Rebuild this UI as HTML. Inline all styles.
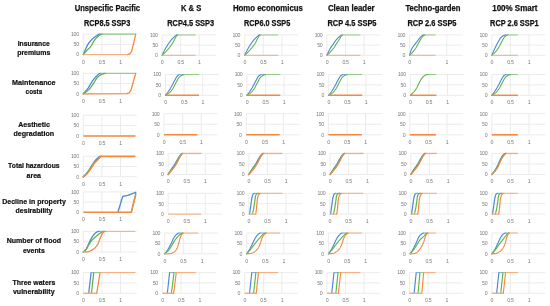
<!DOCTYPE html>
<html><head><meta charset="utf-8"><title>Scenario charts</title>
<style>
html,body{margin:0;padding:0;background:#fff;width:550px;height:306px;overflow:hidden;position:relative}
svg{will-change:transform}
text{font-family:"Liberation Sans",sans-serif}
.t{font-size:5.2px;fill:#7a7a7a;letter-spacing:-0.35px}
.h{font-size:8.3px;font-weight:bold;fill:#111;stroke:#111;stroke-width:0.25px}
.l{font-size:7.0px;font-weight:bold;fill:#111;stroke:#111;stroke-width:0.2px}
</style></head><body>
<svg width="550" height="306" viewBox="0 0 550 306" style="position:absolute;left:0;top:0">
<line x1="83.30" y1="34.10" x2="136.80" y2="34.10" stroke="#e6e6e6" stroke-width="0.8"/>
<line x1="83.30" y1="44.35" x2="136.80" y2="44.35" stroke="#e6e6e6" stroke-width="0.8"/>
<line x1="83.30" y1="54.60" x2="136.80" y2="54.60" stroke="#e6e6e6" stroke-width="0.8"/>
<line x1="83.30" y1="34.10" x2="83.30" y2="54.60" stroke="#e6e6e6" stroke-width="0.8"/>
<line x1="101.90" y1="34.10" x2="101.90" y2="54.60" stroke="#e6e6e6" stroke-width="0.8"/>
<line x1="120.50" y1="34.10" x2="120.50" y2="54.60" stroke="#e6e6e6" stroke-width="0.8"/>
<text x="78.70" y="35.90" text-anchor="end" class="t">100</text>
<text x="78.70" y="46.15" text-anchor="end" class="t">50</text>
<text x="78.70" y="56.40" text-anchor="end" class="t">0</text>
<text x="83.30" y="63.50" text-anchor="middle" class="t">0</text>
<text x="101.90" y="63.50" text-anchor="middle" class="t">0.5</text>
<text x="120.50" y="63.50" text-anchor="middle" class="t">1</text>
<polyline points="83.30,54.60 83.53,54.05 83.76,53.49 83.99,52.92 84.22,52.35 84.45,51.78 84.68,51.21 84.91,50.65 85.14,50.10 85.36,49.56 85.59,49.03 85.82,48.52 86.05,48.04 86.29,47.56 86.52,47.08 86.76,46.60 87.00,46.14 87.23,45.68 87.47,45.24 87.70,44.81 87.94,44.39 88.17,43.99 88.41,43.61 88.64,43.25 88.88,42.92 89.19,42.49 89.50,42.09 89.81,41.71 90.12,41.34 90.43,40.98 90.74,40.64 91.05,40.31 91.36,40.00 91.67,39.69 91.98,39.39 92.29,39.10 92.60,38.81 92.91,38.54 93.22,38.26 93.53,38.00 93.84,37.74 94.15,37.48 94.46,37.24 94.77,37.00 95.08,36.77 95.39,36.55 95.70,36.34 96.01,36.14 96.32,35.95 96.63,35.75 96.94,35.55 97.25,35.34 97.56,35.13 97.87,34.93 98.18,34.74 98.49,34.57 98.80,34.41 99.11,34.28 99.42,34.18 99.73,34.12" fill="none" stroke="#4a88d6" stroke-width="1.3" stroke-linejoin="round" stroke-linecap="round"/>
<polyline points="99.73,34.12 102.02,34.12" fill="none" stroke="#7da9e1" stroke-width="1.2" stroke-linejoin="round" stroke-linecap="butt"/>
<polyline points="83.30,54.60 83.61,54.24 83.92,53.88 84.23,53.51 84.54,53.15 84.85,52.78 85.16,52.42 85.47,52.06 85.78,51.70 86.09,51.34 86.40,50.99 86.71,50.64 87.02,50.30 87.33,49.96 87.64,49.64 87.95,49.33 88.26,49.03 88.57,48.73 88.88,48.43 89.19,48.13 89.50,47.81 89.81,47.49 90.12,47.15 90.43,46.78 90.74,46.40 91.05,45.98 91.36,45.51 91.67,45.00 91.98,44.46 92.29,43.91 92.60,43.34 92.91,42.78 93.22,42.22 93.53,41.68 93.84,41.16 94.15,40.69 94.46,40.25 94.77,39.84 95.08,39.44 95.39,39.05 95.70,38.67 96.01,38.31 96.32,37.95 96.63,37.61 96.94,37.28 97.25,36.97 97.56,36.68 97.87,36.40 98.18,36.15 98.43,35.95 98.68,35.76 98.92,35.56 99.17,35.37 99.42,35.19 99.67,35.01 99.92,34.85 100.16,34.70 100.41,34.57 100.66,34.46 100.91,34.37 101.16,34.31 101.28,34.28 101.40,34.25 101.53,34.23 101.65,34.21 101.78,34.18 101.90,34.16 102.02,34.15" fill="none" stroke="#60b34c" stroke-width="1.3" stroke-linejoin="round" stroke-linecap="round"/>
<polyline points="102.02,34.15 135.38,34.15" fill="none" stroke="#8dc87e" stroke-width="1.2" stroke-linejoin="round" stroke-linecap="butt"/>
<polyline points="83.30,54.60 127.57,54.60" fill="none" stroke="#f8aa75" stroke-width="1.0" stroke-linejoin="round" stroke-linecap="butt"/>
<polyline points="127.57,54.60 129.80,53.78 131.66,51.32 135.75,34.10" fill="none" stroke="#f5893f" stroke-width="1.3" stroke-linejoin="round" stroke-linecap="round"/>
<line x1="162.10" y1="34.90" x2="215.60" y2="34.90" stroke="#e6e6e6" stroke-width="0.8"/>
<line x1="162.10" y1="45.10" x2="215.60" y2="45.10" stroke="#e6e6e6" stroke-width="0.8"/>
<line x1="162.10" y1="55.30" x2="215.60" y2="55.30" stroke="#e6e6e6" stroke-width="0.8"/>
<line x1="162.10" y1="34.90" x2="162.10" y2="55.30" stroke="#e6e6e6" stroke-width="0.8"/>
<line x1="180.70" y1="34.90" x2="180.70" y2="55.30" stroke="#e6e6e6" stroke-width="0.8"/>
<line x1="199.30" y1="34.90" x2="199.30" y2="55.30" stroke="#e6e6e6" stroke-width="0.8"/>
<text x="157.50" y="36.70" text-anchor="end" class="t">100</text>
<text x="157.50" y="46.90" text-anchor="end" class="t">50</text>
<text x="157.50" y="57.10" text-anchor="end" class="t">0</text>
<text x="162.10" y="64.20" text-anchor="middle" class="t">0</text>
<text x="180.70" y="64.20" text-anchor="middle" class="t">0.5</text>
<text x="199.30" y="64.20" text-anchor="middle" class="t">1</text>
<polyline points="162.10,55.30 162.27,54.94 162.43,54.58 162.60,54.21 162.77,53.85 162.94,53.48 163.10,53.12 163.27,52.75 163.44,52.39 163.61,52.04 163.77,51.69 163.94,51.35 164.11,51.02 164.27,50.71 164.42,50.40 164.58,50.10 164.74,49.80 164.90,49.50 165.06,49.21 165.22,48.93 165.37,48.64 165.53,48.36 165.69,48.09 165.85,47.82 166.01,47.55 166.24,47.16 166.47,46.78 166.70,46.40 166.94,46.04 167.17,45.67 167.40,45.31 167.63,44.96 167.87,44.61 168.10,44.27 168.33,43.93 168.56,43.59 168.80,43.26 169.04,42.91 169.29,42.57 169.54,42.22 169.79,41.88 170.04,41.54 170.28,41.21 170.53,40.89 170.78,40.57 171.03,40.26 171.28,39.96 171.52,39.67 171.77,39.39 172.02,39.12 172.27,38.85 172.52,38.59 172.76,38.34 173.01,38.10 173.26,37.86 173.51,37.62 173.76,37.39 174.00,37.17 174.25,36.95 174.50,36.74 174.75,36.53 174.93,36.37 175.12,36.20 175.31,36.02 175.49,35.84 175.68,35.66 175.86,35.49 176.05,35.33 176.24,35.19 176.42,35.07 176.61,34.98 176.79,34.92" fill="none" stroke="#4a88d6" stroke-width="1.1" stroke-linejoin="round" stroke-linecap="round"/>
<polyline points="176.79,34.92 177.91,34.92" fill="none" stroke="#7da9e1" stroke-width="0.95" stroke-linejoin="round" stroke-linecap="butt"/>
<polyline points="162.10,55.30 162.43,54.98 162.75,54.66 163.08,54.34 163.40,54.03 163.73,53.71 164.05,53.40 164.38,53.08 164.70,52.76 165.03,52.43 165.35,52.10 165.68,51.77 166.01,51.42 166.33,51.08 166.66,50.73 166.98,50.37 167.31,50.02 167.63,49.65 167.96,49.29 168.28,48.91 168.61,48.53 168.94,48.15 169.26,47.75 169.59,47.35 169.91,46.94 170.16,46.62 170.41,46.29 170.66,45.96 170.90,45.63 171.15,45.28 171.40,44.93 171.65,44.58 171.90,44.21 172.14,43.84 172.39,43.45 172.64,43.06 172.89,42.65 173.09,42.30 173.29,41.93 173.49,41.54 173.69,41.13 173.90,40.71 174.10,40.29 174.30,39.87 174.50,39.46 174.70,39.05 174.90,38.67 175.10,38.30 175.31,37.96 175.48,37.68 175.65,37.38 175.82,37.08 175.99,36.78 176.16,36.48 176.33,36.20 176.50,35.93 176.67,35.69 176.84,35.48 177.01,35.31 177.18,35.18 177.35,35.10 177.44,35.08 177.54,35.05 177.63,35.02 177.72,35.00 177.82,34.98 177.91,34.96" fill="none" stroke="#60b34c" stroke-width="1.1" stroke-linejoin="round" stroke-linecap="round"/>
<polyline points="177.91,34.96 195.58,34.96" fill="none" stroke="#8dc87e" stroke-width="0.95" stroke-linejoin="round" stroke-linecap="butt"/>
<polyline points="162.10,55.30 195.58,55.30" fill="none" stroke="#f8aa75" stroke-width="0.95" stroke-linejoin="round" stroke-linecap="butt"/>
<line x1="244.70" y1="34.90" x2="298.20" y2="34.90" stroke="#e6e6e6" stroke-width="0.8"/>
<line x1="244.70" y1="45.10" x2="298.20" y2="45.10" stroke="#e6e6e6" stroke-width="0.8"/>
<line x1="244.70" y1="55.30" x2="298.20" y2="55.30" stroke="#e6e6e6" stroke-width="0.8"/>
<line x1="244.70" y1="34.90" x2="244.70" y2="55.30" stroke="#e6e6e6" stroke-width="0.8"/>
<line x1="263.30" y1="34.90" x2="263.30" y2="55.30" stroke="#e6e6e6" stroke-width="0.8"/>
<line x1="281.90" y1="34.90" x2="281.90" y2="55.30" stroke="#e6e6e6" stroke-width="0.8"/>
<text x="240.10" y="36.70" text-anchor="end" class="t">100</text>
<text x="240.10" y="46.90" text-anchor="end" class="t">50</text>
<text x="240.10" y="57.10" text-anchor="end" class="t">0</text>
<text x="244.70" y="64.20" text-anchor="middle" class="t">0</text>
<text x="263.30" y="64.20" text-anchor="middle" class="t">0.5</text>
<text x="281.90" y="64.20" text-anchor="middle" class="t">1</text>
<polyline points="244.70,55.30 244.87,54.94 245.03,54.58 245.20,54.21 245.37,53.85 245.54,53.48 245.70,53.12 245.87,52.75 246.04,52.39 246.21,52.04 246.37,51.69 246.54,51.35 246.71,51.02 246.87,50.71 247.02,50.40 247.18,50.10 247.34,49.80 247.50,49.50 247.66,49.21 247.82,48.93 247.97,48.64 248.13,48.36 248.29,48.09 248.45,47.82 248.61,47.55 248.84,47.16 249.07,46.78 249.30,46.40 249.54,46.04 249.77,45.67 250.00,45.31 250.23,44.96 250.47,44.61 250.70,44.27 250.93,43.93 251.16,43.59 251.40,43.26 251.64,42.91 251.89,42.57 252.14,42.22 252.39,41.88 252.64,41.54 252.88,41.21 253.13,40.89 253.38,40.57 253.63,40.26 253.88,39.96 254.12,39.67 254.37,39.39 254.62,39.12 254.87,38.85 255.12,38.59 255.36,38.34 255.61,38.10 255.86,37.86 256.11,37.62 256.36,37.39 256.60,37.17 256.85,36.95 257.10,36.74 257.35,36.53 257.53,36.37 257.72,36.20 257.91,36.02 258.09,35.84 258.28,35.66 258.46,35.49 258.65,35.33 258.84,35.19 259.02,35.07 259.21,34.98 259.39,34.92" fill="none" stroke="#4a88d6" stroke-width="1.1" stroke-linejoin="round" stroke-linecap="round"/>
<polyline points="259.39,34.92 260.51,34.92" fill="none" stroke="#7da9e1" stroke-width="0.95" stroke-linejoin="round" stroke-linecap="butt"/>
<polyline points="244.70,55.30 245.03,54.98 245.35,54.66 245.68,54.34 246.00,54.03 246.33,53.71 246.65,53.40 246.98,53.08 247.30,52.76 247.63,52.43 247.95,52.10 248.28,51.77 248.61,51.42 248.93,51.08 249.26,50.73 249.58,50.37 249.91,50.02 250.23,49.65 250.56,49.29 250.88,48.91 251.21,48.53 251.54,48.15 251.86,47.75 252.19,47.35 252.51,46.94 252.76,46.62 253.01,46.29 253.26,45.96 253.50,45.63 253.75,45.28 254.00,44.93 254.25,44.58 254.50,44.21 254.74,43.84 254.99,43.45 255.24,43.06 255.49,42.65 255.69,42.30 255.89,41.93 256.09,41.54 256.29,41.13 256.50,40.71 256.70,40.29 256.90,39.87 257.10,39.46 257.30,39.05 257.50,38.67 257.70,38.30 257.91,37.96 258.08,37.68 258.25,37.38 258.42,37.08 258.59,36.78 258.76,36.48 258.93,36.20 259.10,35.93 259.27,35.69 259.44,35.48 259.61,35.31 259.78,35.18 259.95,35.10 260.05,35.08 260.14,35.05 260.23,35.02 260.32,35.00 260.42,34.98 260.51,34.96" fill="none" stroke="#60b34c" stroke-width="1.1" stroke-linejoin="round" stroke-linecap="round"/>
<polyline points="260.51,34.96 278.18,34.96" fill="none" stroke="#8dc87e" stroke-width="0.95" stroke-linejoin="round" stroke-linecap="butt"/>
<polyline points="244.70,55.30 278.18,55.30" fill="none" stroke="#f8aa75" stroke-width="0.95" stroke-linejoin="round" stroke-linecap="butt"/>
<line x1="326.90" y1="34.90" x2="380.40" y2="34.90" stroke="#e6e6e6" stroke-width="0.8"/>
<line x1="326.90" y1="45.10" x2="380.40" y2="45.10" stroke="#e6e6e6" stroke-width="0.8"/>
<line x1="326.90" y1="55.30" x2="380.40" y2="55.30" stroke="#e6e6e6" stroke-width="0.8"/>
<line x1="326.90" y1="34.90" x2="326.90" y2="55.30" stroke="#e6e6e6" stroke-width="0.8"/>
<line x1="345.50" y1="34.90" x2="345.50" y2="55.30" stroke="#e6e6e6" stroke-width="0.8"/>
<line x1="364.10" y1="34.90" x2="364.10" y2="55.30" stroke="#e6e6e6" stroke-width="0.8"/>
<text x="322.30" y="36.70" text-anchor="end" class="t">100</text>
<text x="322.30" y="46.90" text-anchor="end" class="t">50</text>
<text x="322.30" y="57.10" text-anchor="end" class="t">0</text>
<text x="326.90" y="64.20" text-anchor="middle" class="t">0</text>
<text x="345.50" y="64.20" text-anchor="middle" class="t">0.5</text>
<text x="364.10" y="64.20" text-anchor="middle" class="t">1</text>
<polyline points="326.90,55.30 327.15,54.77 327.40,54.22 327.64,53.66 327.89,53.10 328.14,52.54 328.39,51.99 328.64,51.44 328.88,50.90 329.13,50.39 329.38,49.89 329.63,49.42 329.88,48.98 330.12,48.56 330.37,48.17 330.62,47.79 330.87,47.42 331.12,47.07 331.36,46.73 331.61,46.39 331.86,46.06 332.11,45.72 332.36,45.38 332.60,45.04 332.85,44.69 333.16,44.24 333.47,43.78 333.78,43.31 334.09,42.83 334.40,42.36 334.71,41.89 335.02,41.43 335.33,40.98 335.64,40.55 335.95,40.13 336.26,39.75 336.57,39.39 336.91,39.01 337.25,38.65 337.59,38.29 337.94,37.94 338.28,37.60 338.62,37.28 338.96,36.97 339.30,36.68 339.64,36.40 339.98,36.15 340.32,35.92 340.66,35.72 340.82,35.63 340.97,35.53 341.13,35.44 341.28,35.35 341.44,35.26 341.59,35.18 341.75,35.10 341.90,35.03 342.06,34.98 342.21,34.94" fill="none" stroke="#4a88d6" stroke-width="1.1" stroke-linejoin="round" stroke-linecap="round"/>
<polyline points="342.21,34.94 342.71,34.94" fill="none" stroke="#7da9e1" stroke-width="0.95" stroke-linejoin="round" stroke-linecap="butt"/>
<polyline points="326.90,55.30 327.23,54.98 327.55,54.66 327.88,54.35 328.20,54.03 328.53,53.72 328.85,53.40 329.18,53.09 329.50,52.76 329.83,52.44 330.15,52.11 330.48,51.77 330.81,51.42 331.05,51.16 331.30,50.89 331.55,50.62 331.80,50.35 332.05,50.07 332.29,49.79 332.54,49.51 332.79,49.21 333.04,48.91 333.29,48.61 333.53,48.29 333.78,47.96 334.01,47.63 334.25,47.29 334.48,46.93 334.71,46.55 334.94,46.17 335.18,45.78 335.41,45.39 335.64,45.00 335.87,44.60 336.11,44.22 336.34,43.84 336.57,43.47 336.82,43.08 337.07,42.70 337.32,42.32 337.56,41.95 337.81,41.57 338.06,41.20 338.31,40.83 338.56,40.46 338.80,40.09 339.05,39.72 339.30,39.35 339.55,38.98 339.76,38.64 339.98,38.26 340.20,37.86 340.42,37.45 340.63,37.05 340.85,36.65 341.07,36.28 341.28,35.93 341.50,35.63 341.72,35.39 341.94,35.21 342.15,35.10 342.25,35.08 342.34,35.05 342.43,35.03 342.52,35.00 342.62,34.98 342.71,34.96" fill="none" stroke="#60b34c" stroke-width="1.1" stroke-linejoin="round" stroke-linecap="round"/>
<polyline points="342.71,34.96 360.38,34.96" fill="none" stroke="#8dc87e" stroke-width="0.95" stroke-linejoin="round" stroke-linecap="butt"/>
<polyline points="326.90,55.30 360.38,55.30" fill="none" stroke="#f8aa75" stroke-width="0.95" stroke-linejoin="round" stroke-linecap="butt"/>
<line x1="409.60" y1="34.90" x2="463.10" y2="34.90" stroke="#e6e6e6" stroke-width="0.8"/>
<line x1="409.60" y1="45.10" x2="463.10" y2="45.10" stroke="#e6e6e6" stroke-width="0.8"/>
<line x1="409.60" y1="55.30" x2="463.10" y2="55.30" stroke="#e6e6e6" stroke-width="0.8"/>
<line x1="409.60" y1="34.90" x2="409.60" y2="55.30" stroke="#e6e6e6" stroke-width="0.8"/>
<line x1="446.80" y1="34.90" x2="446.80" y2="55.30" stroke="#e6e6e6" stroke-width="0.8"/>
<text x="405.00" y="36.70" text-anchor="end" class="t">100</text>
<text x="405.00" y="46.90" text-anchor="end" class="t">50</text>
<text x="405.00" y="57.10" text-anchor="end" class="t">0</text>
<text x="409.60" y="64.20" text-anchor="middle" class="t">0</text>
<text x="446.80" y="64.20" text-anchor="middle" class="t">1</text>
<polyline points="409.60,55.30 409.74,54.83 409.88,54.34 410.02,53.84 410.16,53.33 410.30,52.82 410.44,52.32 410.58,51.83 410.72,51.36 410.86,50.91 411.00,50.50 411.13,50.12 411.27,49.79 411.48,49.37 411.68,48.97 411.88,48.60 412.08,48.26 412.28,47.93 412.48,47.62 412.68,47.33 412.89,47.04 413.09,46.76 413.29,46.48 413.49,46.20 413.69,45.92 413.94,45.56 414.19,45.22 414.44,44.89 414.68,44.56 414.93,44.24 415.18,43.93 415.43,43.61 415.68,43.30 415.92,42.99 416.17,42.68 416.42,42.36 416.67,42.04 416.92,41.71 417.16,41.38 417.41,41.05 417.66,40.71 417.91,40.37 418.16,40.04 418.40,39.71 418.65,39.38 418.90,39.06 419.15,38.75 419.40,38.45 419.64,38.16 419.85,37.93 420.05,37.70 420.25,37.46 420.45,37.22 420.65,36.99 420.85,36.77 421.05,36.55 421.26,36.35 421.46,36.16 421.66,35.99 421.86,35.84 422.06,35.72 422.23,35.62 422.40,35.52 422.57,35.43 422.74,35.33 422.91,35.25 423.09,35.16 423.26,35.09 423.43,35.03 423.60,34.97 423.77,34.93" fill="none" stroke="#4a88d6" stroke-width="1.1" stroke-linejoin="round" stroke-linecap="round"/>
<polyline points="423.77,34.93 425.10,34.93" fill="none" stroke="#7da9e1" stroke-width="0.95" stroke-linejoin="round" stroke-linecap="butt"/>
<polyline points="409.60,55.30 409.88,55.01 410.16,54.73 410.44,54.45 410.72,54.18 411.00,53.90 411.27,53.62 411.55,53.34 411.83,53.05 412.11,52.76 412.39,52.46 412.67,52.15 412.95,51.83 413.18,51.56 413.41,51.28 413.65,51.00 413.88,50.72 414.11,50.42 414.34,50.12 414.58,49.82 414.81,49.50 415.04,49.18 415.27,48.85 415.51,48.51 415.74,48.16 415.97,47.79 416.20,47.40 416.44,46.99 416.67,46.56 416.90,46.13 417.13,45.68 417.37,45.23 417.60,44.78 417.83,44.34 418.06,43.90 418.30,43.47 418.53,43.06 418.78,42.63 419.02,42.19 419.27,41.75 419.52,41.32 419.77,40.88 420.02,40.45 420.26,40.04 420.51,39.63 420.76,39.24 421.01,38.86 421.26,38.50 421.50,38.16 421.72,37.88 421.94,37.58 422.16,37.29 422.37,37.00 422.59,36.72 422.81,36.44 423.02,36.19 423.24,35.96 423.46,35.75 423.67,35.57 423.89,35.42 424.11,35.31 424.23,35.26 424.36,35.21 424.48,35.16 424.60,35.11 424.73,35.07 424.85,35.03 424.98,34.99 425.10,34.96" fill="none" stroke="#60b34c" stroke-width="1.1" stroke-linejoin="round" stroke-linecap="round"/>
<polyline points="425.10,34.96 435.64,34.96" fill="none" stroke="#8dc87e" stroke-width="0.95" stroke-linejoin="round" stroke-linecap="butt"/>
<polyline points="409.60,55.30 435.64,55.30" fill="none" stroke="#f8aa75" stroke-width="0.95" stroke-linejoin="round" stroke-linecap="butt"/>
<line x1="491.80" y1="34.90" x2="545.30" y2="34.90" stroke="#e6e6e6" stroke-width="0.8"/>
<line x1="491.80" y1="45.10" x2="545.30" y2="45.10" stroke="#e6e6e6" stroke-width="0.8"/>
<line x1="491.80" y1="55.30" x2="545.30" y2="55.30" stroke="#e6e6e6" stroke-width="0.8"/>
<line x1="491.80" y1="34.90" x2="491.80" y2="55.30" stroke="#e6e6e6" stroke-width="0.8"/>
<line x1="510.40" y1="34.90" x2="510.40" y2="55.30" stroke="#e6e6e6" stroke-width="0.8"/>
<line x1="529.00" y1="34.90" x2="529.00" y2="55.30" stroke="#e6e6e6" stroke-width="0.8"/>
<text x="487.20" y="36.70" text-anchor="end" class="t">100</text>
<text x="487.20" y="46.90" text-anchor="end" class="t">50</text>
<text x="487.20" y="57.10" text-anchor="end" class="t">0</text>
<text x="491.80" y="64.20" text-anchor="middle" class="t">0</text>
<text x="510.40" y="64.20" text-anchor="middle" class="t">0.5</text>
<text x="529.00" y="64.20" text-anchor="middle" class="t">1</text>
<polyline points="491.80,55.30 492.05,54.74 492.30,54.17 492.54,53.60 492.79,53.02 493.04,52.45 493.29,51.88 493.54,51.31 493.78,50.75 494.03,50.19 494.28,49.64 494.53,49.10 494.78,48.57 495.02,48.04 495.27,47.52 495.52,47.01 495.77,46.50 496.02,45.99 496.26,45.49 496.51,45.00 496.76,44.51 497.01,44.03 497.26,43.56 497.50,43.10 497.75,42.65 498.00,42.20 498.25,41.74 498.50,41.28 498.74,40.82 498.99,40.36 499.24,39.92 499.49,39.49 499.74,39.08 499.98,38.70 500.23,38.35 500.48,38.03 500.73,37.76 500.98,37.50 501.22,37.26 501.47,37.02 501.72,36.79 501.97,36.57 502.22,36.37 502.46,36.18 502.71,36.01 502.96,35.85 503.21,35.72 503.46,35.60 503.70,35.51 503.95,35.43 504.20,35.36 504.45,35.28 504.70,35.21 504.94,35.15 505.19,35.09 505.44,35.03 505.69,34.99 505.94,34.95" fill="none" stroke="#4a88d6" stroke-width="1.1" stroke-linejoin="round" stroke-linecap="round"/>
<polyline points="505.94,34.95 508.07,34.95" fill="none" stroke="#7da9e1" stroke-width="0.95" stroke-linejoin="round" stroke-linecap="butt"/>
<polyline points="491.80,55.30 492.13,55.00 492.46,54.71 492.79,54.42 493.11,54.14 493.44,53.85 493.77,53.57 494.10,53.27 494.43,52.97 494.76,52.66 495.09,52.33 495.41,51.99 495.74,51.63 496.00,51.32 496.26,51.00 496.52,50.67 496.78,50.32 497.05,49.95 497.31,49.58 497.57,49.19 497.83,48.80 498.09,48.40 498.35,47.98 498.61,47.56 498.87,47.14 499.10,46.75 499.33,46.33 499.57,45.90 499.80,45.45 500.03,44.99 500.26,44.53 500.50,44.07 500.73,43.60 500.96,43.14 501.19,42.69 501.43,42.26 501.66,41.84 501.91,41.39 502.15,40.93 502.40,40.46 502.65,39.99 502.90,39.53 503.15,39.08 503.39,38.64 503.64,38.23 503.89,37.85 504.14,37.50 504.39,37.20 504.63,36.94 504.87,36.73 505.10,36.52 505.33,36.32 505.56,36.13 505.80,35.95 506.03,35.79 506.26,35.63 506.49,35.50 506.73,35.37 506.96,35.27 507.19,35.18 507.42,35.10 507.52,35.08 507.61,35.05 507.70,35.03 507.80,35.01 507.89,34.99 507.98,34.97 508.07,34.95" fill="none" stroke="#60b34c" stroke-width="1.1" stroke-linejoin="round" stroke-linecap="round"/>
<polyline points="508.07,34.95 517.84,34.95" fill="none" stroke="#8dc87e" stroke-width="0.95" stroke-linejoin="round" stroke-linecap="butt"/>
<polyline points="491.80,55.30 517.84,55.30" fill="none" stroke="#f8aa75" stroke-width="0.95" stroke-linejoin="round" stroke-linecap="butt"/>
<line x1="83.30" y1="73.30" x2="136.80" y2="73.30" stroke="#e6e6e6" stroke-width="0.8"/>
<line x1="83.30" y1="83.55" x2="136.80" y2="83.55" stroke="#e6e6e6" stroke-width="0.8"/>
<line x1="83.30" y1="93.80" x2="136.80" y2="93.80" stroke="#e6e6e6" stroke-width="0.8"/>
<line x1="83.30" y1="73.30" x2="83.30" y2="93.80" stroke="#e6e6e6" stroke-width="0.8"/>
<line x1="101.90" y1="73.30" x2="101.90" y2="93.80" stroke="#e6e6e6" stroke-width="0.8"/>
<line x1="120.50" y1="73.30" x2="120.50" y2="93.80" stroke="#e6e6e6" stroke-width="0.8"/>
<text x="78.70" y="75.10" text-anchor="end" class="t">100</text>
<text x="78.70" y="85.35" text-anchor="end" class="t">50</text>
<text x="78.70" y="95.60" text-anchor="end" class="t">0</text>
<text x="83.30" y="102.70" text-anchor="middle" class="t">0</text>
<text x="101.90" y="102.70" text-anchor="middle" class="t">0.5</text>
<text x="120.50" y="102.70" text-anchor="middle" class="t">1</text>
<polyline points="83.30,93.80 83.66,93.38 84.03,92.96 84.39,92.55 84.75,92.14 85.11,91.74 85.48,91.33 85.84,90.91 86.20,90.49 86.56,90.06 86.93,89.61 87.29,89.15 87.65,88.67 88.10,88.05 88.54,87.39 88.98,86.69 89.43,85.96 89.87,85.21 90.31,84.46 90.76,83.71 91.20,82.96 91.64,82.24 92.09,81.54 92.53,80.88 92.97,80.27 93.28,79.86 93.59,79.47 93.90,79.08 94.21,78.70 94.52,78.33 94.83,77.97 95.14,77.62 95.45,77.28 95.76,76.94 96.07,76.61 96.38,76.28 96.69,75.97 96.88,75.77 97.06,75.58 97.25,75.38 97.44,75.18 97.62,74.98 97.81,74.79 97.99,74.61 98.18,74.44 98.37,74.28 98.55,74.14 98.74,74.02 98.92,73.91 99.08,73.84 99.23,73.77 99.39,73.69 99.54,73.62 99.70,73.56 99.85,73.50 100.01,73.44 100.16,73.39 100.32,73.35" fill="none" stroke="#4a88d6" stroke-width="1.3" stroke-linejoin="round" stroke-linecap="round"/>
<polyline points="100.32,73.35 105.62,73.35" fill="none" stroke="#7da9e1" stroke-width="1.1" stroke-linejoin="round" stroke-linecap="butt"/>
<polyline points="83.30,93.80 83.75,93.47 84.21,93.14 84.66,92.83 85.11,92.52 85.56,92.21 86.02,91.89 86.47,91.57 86.92,91.24 87.37,90.89 87.83,90.52 88.28,90.12 88.73,89.70 89.18,89.25 89.62,88.75 90.07,88.21 90.52,87.64 90.96,87.05 91.41,86.43 91.86,85.79 92.30,85.14 92.75,84.49 93.20,83.83 93.64,83.17 94.09,82.52 94.37,82.11 94.65,81.66 94.92,81.20 95.20,80.72 95.48,80.24 95.76,79.77 96.04,79.30 96.32,78.85 96.60,78.43 96.88,78.04 97.16,77.70 97.44,77.40 97.81,77.05 98.18,76.71 98.55,76.38 98.92,76.08 99.30,75.79 99.67,75.51 100.04,75.26 100.41,75.03 100.78,74.82 101.16,74.63 101.53,74.47 101.90,74.33 102.27,74.20 102.64,74.07 103.02,73.95 103.39,73.83 103.76,73.72 104.13,73.62 104.50,73.53 104.88,73.45 105.25,73.39 105.62,73.34" fill="none" stroke="#60b34c" stroke-width="1.3" stroke-linejoin="round" stroke-linecap="round"/>
<polyline points="105.62,73.34 135.38,73.34" fill="none" stroke="#8dc87e" stroke-width="1.1" stroke-linejoin="round" stroke-linecap="butt"/>
<polyline points="83.30,93.80 126.82,93.70 129.06,92.77 130.92,90.11 135.75,73.30" fill="none" stroke="#f5893f" stroke-width="1.3" stroke-linejoin="round" stroke-linecap="round"/>
<line x1="165.50" y1="74.50" x2="219.00" y2="74.50" stroke="#e6e6e6" stroke-width="0.8"/>
<line x1="165.50" y1="84.90" x2="219.00" y2="84.90" stroke="#e6e6e6" stroke-width="0.8"/>
<line x1="165.50" y1="95.30" x2="219.00" y2="95.30" stroke="#e6e6e6" stroke-width="0.8"/>
<line x1="165.50" y1="74.50" x2="165.50" y2="95.30" stroke="#e6e6e6" stroke-width="0.8"/>
<line x1="184.10" y1="74.50" x2="184.10" y2="95.30" stroke="#e6e6e6" stroke-width="0.8"/>
<line x1="202.70" y1="74.50" x2="202.70" y2="95.30" stroke="#e6e6e6" stroke-width="0.8"/>
<text x="160.90" y="76.30" text-anchor="end" class="t">100</text>
<text x="160.90" y="86.70" text-anchor="end" class="t">50</text>
<text x="160.90" y="97.10" text-anchor="end" class="t">0</text>
<text x="165.50" y="104.20" text-anchor="middle" class="t">0</text>
<text x="184.10" y="104.20" text-anchor="middle" class="t">0.5</text>
<text x="202.70" y="104.20" text-anchor="middle" class="t">1</text>
<polyline points="165.50,95.30 165.76,94.96 166.03,94.62 166.29,94.28 166.55,93.95 166.82,93.62 167.08,93.28 167.34,92.94 167.61,92.60 167.87,92.25 168.13,91.89 168.40,91.52 168.66,91.14 168.94,90.72 169.22,90.29 169.50,89.85 169.78,89.40 170.06,88.94 170.34,88.47 170.62,87.99 170.89,87.51 171.17,87.02 171.45,86.52 171.73,86.03 172.01,85.52 172.24,85.10 172.47,84.65 172.71,84.20 172.94,83.73 173.17,83.26 173.41,82.79 173.64,82.32 173.87,81.86 174.10,81.40 174.34,80.95 174.57,80.53 174.80,80.12 175.05,79.68 175.30,79.23 175.54,78.78 175.79,78.33 176.04,77.88 176.29,77.45 176.54,77.04 176.78,76.66 177.03,76.31 177.28,76.00 177.53,75.74 177.78,75.54 177.96,75.41 178.15,75.28 178.33,75.16 178.52,75.04 178.71,74.93 178.89,74.83 179.08,74.73 179.26,74.65 179.45,74.59 179.64,74.54" fill="none" stroke="#4a88d6" stroke-width="1.1" stroke-linejoin="round" stroke-linecap="round"/>
<polyline points="179.64,74.54 184.35,74.54" fill="none" stroke="#7da9e1" stroke-width="0.95" stroke-linejoin="round" stroke-linecap="butt"/>
<polyline points="165.50,95.30 165.84,95.08 166.18,94.87 166.52,94.66 166.86,94.46 167.21,94.26 167.55,94.06 167.89,93.84 168.23,93.63 168.57,93.39 168.91,93.15 169.25,92.88 169.59,92.60 169.87,92.34 170.15,92.07 170.43,91.77 170.71,91.46 170.99,91.13 171.27,90.78 171.54,90.42 171.82,90.04 172.10,89.66 172.38,89.26 172.66,88.85 172.94,88.44 173.19,88.05 173.44,87.63 173.68,87.18 173.93,86.72 174.18,86.24 174.43,85.74 174.68,85.24 174.92,84.74 175.17,84.25 175.42,83.76 175.67,83.28 175.92,82.82 176.16,82.36 176.41,81.88 176.66,81.39 176.91,80.90 177.16,80.41 177.40,79.93 177.65,79.47 177.90,79.03 178.15,78.62 178.40,78.24 178.64,77.91 178.89,77.62 179.20,77.30 179.51,76.99 179.82,76.70 180.13,76.41 180.44,76.15 180.75,75.90 181.06,75.67 181.37,75.47 181.68,75.29 181.99,75.14 182.30,75.01 182.61,74.92 182.83,74.86 183.05,74.81 183.26,74.76 183.48,74.71 183.70,74.67 183.91,74.63 184.13,74.59 184.35,74.56" fill="none" stroke="#60b34c" stroke-width="1.1" stroke-linejoin="round" stroke-linecap="round"/>
<polyline points="184.35,74.56 198.98,74.56" fill="none" stroke="#8dc87e" stroke-width="0.95" stroke-linejoin="round" stroke-linecap="butt"/>
<polyline points="165.50,95.30 198.98,95.30" fill="none" stroke="#f5893f" stroke-width="1.5" stroke-linejoin="round" stroke-linecap="butt"/>
<line x1="246.90" y1="74.50" x2="300.40" y2="74.50" stroke="#e6e6e6" stroke-width="0.8"/>
<line x1="246.90" y1="84.90" x2="300.40" y2="84.90" stroke="#e6e6e6" stroke-width="0.8"/>
<line x1="246.90" y1="95.30" x2="300.40" y2="95.30" stroke="#e6e6e6" stroke-width="0.8"/>
<line x1="246.90" y1="74.50" x2="246.90" y2="95.30" stroke="#e6e6e6" stroke-width="0.8"/>
<line x1="265.50" y1="74.50" x2="265.50" y2="95.30" stroke="#e6e6e6" stroke-width="0.8"/>
<line x1="284.10" y1="74.50" x2="284.10" y2="95.30" stroke="#e6e6e6" stroke-width="0.8"/>
<text x="242.30" y="76.30" text-anchor="end" class="t">100</text>
<text x="242.30" y="86.70" text-anchor="end" class="t">50</text>
<text x="242.30" y="97.10" text-anchor="end" class="t">0</text>
<text x="246.90" y="104.20" text-anchor="middle" class="t">0</text>
<text x="265.50" y="104.20" text-anchor="middle" class="t">0.5</text>
<text x="284.10" y="104.20" text-anchor="middle" class="t">1</text>
<polyline points="246.90,95.30 247.16,94.96 247.43,94.62 247.69,94.28 247.95,93.95 248.22,93.62 248.48,93.28 248.74,92.94 249.01,92.60 249.27,92.25 249.53,91.89 249.80,91.52 250.06,91.14 250.34,90.72 250.62,90.29 250.90,89.85 251.18,89.40 251.46,88.94 251.74,88.47 252.02,87.99 252.29,87.51 252.57,87.02 252.85,86.52 253.13,86.03 253.41,85.52 253.64,85.10 253.88,84.65 254.11,84.20 254.34,83.73 254.57,83.26 254.81,82.79 255.04,82.32 255.27,81.86 255.50,81.40 255.74,80.95 255.97,80.53 256.20,80.12 256.45,79.68 256.70,79.23 256.94,78.78 257.19,78.33 257.44,77.88 257.69,77.45 257.94,77.04 258.18,76.66 258.43,76.31 258.68,76.00 258.93,75.74 259.18,75.54 259.36,75.41 259.55,75.28 259.73,75.16 259.92,75.04 260.11,74.93 260.29,74.83 260.48,74.73 260.66,74.65 260.85,74.59 261.04,74.54" fill="none" stroke="#4a88d6" stroke-width="1.1" stroke-linejoin="round" stroke-linecap="round"/>
<polyline points="261.04,74.54 265.75,74.54" fill="none" stroke="#7da9e1" stroke-width="0.95" stroke-linejoin="round" stroke-linecap="butt"/>
<polyline points="246.90,95.30 247.24,95.08 247.58,94.87 247.92,94.66 248.26,94.46 248.61,94.26 248.95,94.06 249.29,93.84 249.63,93.63 249.97,93.39 250.31,93.15 250.65,92.88 250.99,92.60 251.27,92.34 251.55,92.07 251.83,91.77 252.11,91.46 252.39,91.13 252.67,90.78 252.94,90.42 253.22,90.04 253.50,89.66 253.78,89.26 254.06,88.85 254.34,88.44 254.59,88.05 254.84,87.63 255.08,87.18 255.33,86.72 255.58,86.24 255.83,85.74 256.08,85.24 256.32,84.74 256.57,84.25 256.82,83.76 257.07,83.28 257.32,82.82 257.56,82.36 257.81,81.88 258.06,81.39 258.31,80.90 258.56,80.41 258.80,79.93 259.05,79.47 259.30,79.03 259.55,78.62 259.80,78.24 260.04,77.91 260.29,77.62 260.60,77.30 260.91,76.99 261.22,76.70 261.53,76.41 261.84,76.15 262.15,75.90 262.46,75.67 262.77,75.47 263.08,75.29 263.39,75.14 263.70,75.01 264.01,74.92 264.23,74.86 264.45,74.81 264.66,74.76 264.88,74.71 265.10,74.67 265.31,74.63 265.53,74.59 265.75,74.56" fill="none" stroke="#60b34c" stroke-width="1.1" stroke-linejoin="round" stroke-linecap="round"/>
<polyline points="265.75,74.56 280.38,74.56" fill="none" stroke="#8dc87e" stroke-width="0.95" stroke-linejoin="round" stroke-linecap="butt"/>
<polyline points="246.90,95.30 280.38,95.30" fill="none" stroke="#f5893f" stroke-width="1.5" stroke-linejoin="round" stroke-linecap="butt"/>
<line x1="328.70" y1="74.50" x2="382.20" y2="74.50" stroke="#e6e6e6" stroke-width="0.8"/>
<line x1="328.70" y1="84.90" x2="382.20" y2="84.90" stroke="#e6e6e6" stroke-width="0.8"/>
<line x1="328.70" y1="95.30" x2="382.20" y2="95.30" stroke="#e6e6e6" stroke-width="0.8"/>
<line x1="328.70" y1="74.50" x2="328.70" y2="95.30" stroke="#e6e6e6" stroke-width="0.8"/>
<line x1="347.30" y1="74.50" x2="347.30" y2="95.30" stroke="#e6e6e6" stroke-width="0.8"/>
<line x1="365.90" y1="74.50" x2="365.90" y2="95.30" stroke="#e6e6e6" stroke-width="0.8"/>
<text x="324.10" y="76.30" text-anchor="end" class="t">100</text>
<text x="324.10" y="86.70" text-anchor="end" class="t">50</text>
<text x="324.10" y="97.10" text-anchor="end" class="t">0</text>
<text x="328.70" y="104.20" text-anchor="middle" class="t">0</text>
<text x="347.30" y="104.20" text-anchor="middle" class="t">0.5</text>
<text x="365.90" y="104.20" text-anchor="middle" class="t">1</text>
<polyline points="328.70,95.30 328.96,94.96 329.23,94.62 329.49,94.28 329.75,93.95 330.02,93.62 330.28,93.28 330.54,92.94 330.81,92.60 331.07,92.25 331.33,91.89 331.60,91.52 331.86,91.14 332.14,90.72 332.42,90.29 332.70,89.85 332.98,89.40 333.26,88.94 333.54,88.47 333.81,87.99 334.09,87.51 334.37,87.02 334.65,86.52 334.93,86.03 335.21,85.52 335.44,85.10 335.68,84.65 335.91,84.20 336.14,83.73 336.37,83.26 336.60,82.79 336.84,82.32 337.07,81.86 337.30,81.40 337.53,80.95 337.77,80.53 338.00,80.12 338.25,79.68 338.50,79.23 338.74,78.78 338.99,78.33 339.24,77.88 339.49,77.45 339.74,77.04 339.98,76.66 340.23,76.31 340.48,76.00 340.73,75.74 340.98,75.54 341.16,75.41 341.35,75.28 341.53,75.16 341.72,75.04 341.91,74.93 342.09,74.83 342.28,74.73 342.46,74.65 342.65,74.59 342.84,74.54" fill="none" stroke="#4a88d6" stroke-width="1.1" stroke-linejoin="round" stroke-linecap="round"/>
<polyline points="342.84,74.54 347.55,74.54" fill="none" stroke="#7da9e1" stroke-width="0.95" stroke-linejoin="round" stroke-linecap="butt"/>
<polyline points="328.70,95.30 329.04,95.08 329.38,94.87 329.72,94.66 330.06,94.46 330.40,94.26 330.75,94.06 331.09,93.84 331.43,93.63 331.77,93.39 332.11,93.15 332.45,92.88 332.79,92.60 333.07,92.34 333.35,92.07 333.63,91.77 333.91,91.46 334.19,91.13 334.47,90.78 334.75,90.42 335.02,90.04 335.30,89.66 335.58,89.26 335.86,88.85 336.14,88.44 336.39,88.05 336.64,87.63 336.88,87.18 337.13,86.72 337.38,86.24 337.63,85.74 337.88,85.24 338.12,84.74 338.37,84.25 338.62,83.76 338.87,83.28 339.12,82.82 339.36,82.36 339.61,81.88 339.86,81.39 340.11,80.90 340.36,80.41 340.60,79.93 340.85,79.47 341.10,79.03 341.35,78.62 341.60,78.24 341.84,77.91 342.09,77.62 342.40,77.30 342.71,76.99 343.02,76.70 343.33,76.41 343.64,76.15 343.95,75.90 344.26,75.67 344.57,75.47 344.88,75.29 345.19,75.14 345.50,75.01 345.81,74.92 346.03,74.86 346.25,74.81 346.46,74.76 346.68,74.71 346.90,74.67 347.11,74.63 347.33,74.59 347.55,74.56" fill="none" stroke="#60b34c" stroke-width="1.1" stroke-linejoin="round" stroke-linecap="round"/>
<polyline points="347.55,74.56 362.18,74.56" fill="none" stroke="#8dc87e" stroke-width="0.95" stroke-linejoin="round" stroke-linecap="butt"/>
<polyline points="328.70,95.30 362.18,95.30" fill="none" stroke="#f5893f" stroke-width="1.5" stroke-linejoin="round" stroke-linecap="butt"/>
<line x1="410.30" y1="74.50" x2="463.80" y2="74.50" stroke="#e6e6e6" stroke-width="0.8"/>
<line x1="410.30" y1="84.90" x2="463.80" y2="84.90" stroke="#e6e6e6" stroke-width="0.8"/>
<line x1="410.30" y1="95.30" x2="463.80" y2="95.30" stroke="#e6e6e6" stroke-width="0.8"/>
<line x1="410.30" y1="74.50" x2="410.30" y2="95.30" stroke="#e6e6e6" stroke-width="0.8"/>
<line x1="428.90" y1="74.50" x2="428.90" y2="95.30" stroke="#e6e6e6" stroke-width="0.8"/>
<line x1="447.50" y1="74.50" x2="447.50" y2="95.30" stroke="#e6e6e6" stroke-width="0.8"/>
<text x="405.70" y="76.30" text-anchor="end" class="t">100</text>
<text x="405.70" y="86.70" text-anchor="end" class="t">50</text>
<text x="405.70" y="97.10" text-anchor="end" class="t">0</text>
<text x="410.30" y="104.20" text-anchor="middle" class="t">0</text>
<text x="428.90" y="104.20" text-anchor="middle" class="t">0.5</text>
<text x="447.50" y="104.20" text-anchor="middle" class="t">1</text>
<polyline points="410.30,95.30 410.59,95.04 410.87,94.78 411.16,94.52 411.44,94.27 411.73,94.02 412.01,93.77 412.30,93.51 412.58,93.25 412.87,92.97 413.15,92.69 413.44,92.39 413.72,92.08 413.96,91.80 414.21,91.51 414.45,91.21 414.69,90.89 414.93,90.57 415.17,90.24 415.42,89.89 415.66,89.54 415.90,89.17 416.14,88.80 416.38,88.41 416.62,88.02 416.87,87.59 417.12,87.12 417.37,86.63 417.62,86.11 417.86,85.58 418.11,85.04 418.36,84.50 418.61,83.96 418.86,83.43 419.10,82.92 419.35,82.44 419.60,81.99 419.85,81.55 420.10,81.12 420.34,80.69 420.59,80.26 420.84,79.85 421.09,79.44 421.34,79.05 421.58,78.68 421.83,78.32 422.08,77.99 422.33,77.69 422.58,77.41 422.82,77.15 423.07,76.89 423.32,76.64 423.57,76.39 423.82,76.15 424.06,75.93 424.31,75.72 424.56,75.53 424.81,75.37 425.06,75.22 425.30,75.11 425.55,75.02 425.80,74.95 426.05,74.88 426.30,74.82 426.54,74.76 426.79,74.70 427.04,74.65 427.29,74.61 427.54,74.57 427.78,74.54" fill="none" stroke="#60b34c" stroke-width="1.1" stroke-linejoin="round" stroke-linecap="round"/>
<polyline points="427.78,74.54 436.34,74.54" fill="none" stroke="#8dc87e" stroke-width="0.95" stroke-linejoin="round" stroke-linecap="butt"/>
<polyline points="410.30,95.30 436.34,95.30" fill="none" stroke="#f5893f" stroke-width="1.5" stroke-linejoin="round" stroke-linecap="butt"/>
<line x1="491.80" y1="74.50" x2="545.30" y2="74.50" stroke="#e6e6e6" stroke-width="0.8"/>
<line x1="491.80" y1="84.90" x2="545.30" y2="84.90" stroke="#e6e6e6" stroke-width="0.8"/>
<line x1="491.80" y1="95.30" x2="545.30" y2="95.30" stroke="#e6e6e6" stroke-width="0.8"/>
<line x1="491.80" y1="74.50" x2="491.80" y2="95.30" stroke="#e6e6e6" stroke-width="0.8"/>
<line x1="510.40" y1="74.50" x2="510.40" y2="95.30" stroke="#e6e6e6" stroke-width="0.8"/>
<line x1="529.00" y1="74.50" x2="529.00" y2="95.30" stroke="#e6e6e6" stroke-width="0.8"/>
<text x="487.20" y="76.30" text-anchor="end" class="t">100</text>
<text x="487.20" y="86.70" text-anchor="end" class="t">50</text>
<text x="487.20" y="97.10" text-anchor="end" class="t">0</text>
<text x="491.80" y="104.20" text-anchor="middle" class="t">0</text>
<text x="510.40" y="104.20" text-anchor="middle" class="t">0.5</text>
<text x="529.00" y="104.20" text-anchor="middle" class="t">1</text>
<polyline points="491.80,95.30 492.06,94.96 492.33,94.62 492.59,94.28 492.85,93.95 493.12,93.62 493.38,93.28 493.64,92.94 493.91,92.60 494.17,92.25 494.44,91.89 494.70,91.52 494.96,91.14 495.24,90.72 495.52,90.29 495.80,89.85 496.08,89.40 496.36,88.94 496.64,88.47 496.92,87.99 497.19,87.51 497.47,87.02 497.75,86.52 498.03,86.03 498.31,85.52 498.54,85.10 498.78,84.65 499.01,84.20 499.24,83.73 499.47,83.26 499.70,82.79 499.94,82.32 500.17,81.86 500.40,81.40 500.63,80.95 500.87,80.53 501.10,80.12 501.35,79.68 501.60,79.23 501.84,78.78 502.09,78.33 502.34,77.88 502.59,77.45 502.84,77.04 503.08,76.66 503.33,76.31 503.58,76.00 503.83,75.74 504.08,75.54 504.26,75.41 504.45,75.28 504.63,75.16 504.82,75.04 505.01,74.93 505.19,74.83 505.38,74.73 505.56,74.65 505.75,74.59 505.94,74.54" fill="none" stroke="#4a88d6" stroke-width="1.1" stroke-linejoin="round" stroke-linecap="round"/>
<polyline points="505.94,74.54 510.65,74.54" fill="none" stroke="#7da9e1" stroke-width="0.95" stroke-linejoin="round" stroke-linecap="butt"/>
<polyline points="491.80,95.30 492.14,95.08 492.48,94.87 492.82,94.66 493.16,94.46 493.50,94.26 493.85,94.06 494.19,93.84 494.53,93.63 494.87,93.39 495.21,93.15 495.55,92.88 495.89,92.60 496.17,92.34 496.45,92.07 496.73,91.77 497.01,91.46 497.29,91.13 497.57,90.78 497.85,90.42 498.12,90.04 498.40,89.66 498.68,89.26 498.96,88.85 499.24,88.44 499.49,88.05 499.74,87.63 499.98,87.18 500.23,86.72 500.48,86.24 500.73,85.74 500.98,85.24 501.22,84.74 501.47,84.25 501.72,83.76 501.97,83.28 502.22,82.82 502.46,82.36 502.71,81.88 502.96,81.39 503.21,80.90 503.46,80.41 503.70,79.93 503.95,79.47 504.20,79.03 504.45,78.62 504.70,78.24 504.94,77.91 505.19,77.62 505.50,77.30 505.81,76.99 506.12,76.70 506.43,76.41 506.74,76.15 507.05,75.90 507.36,75.67 507.67,75.47 507.98,75.29 508.29,75.14 508.60,75.01 508.91,74.92 509.13,74.86 509.35,74.81 509.56,74.76 509.78,74.71 510.00,74.67 510.21,74.63 510.43,74.59 510.65,74.56" fill="none" stroke="#60b34c" stroke-width="1.1" stroke-linejoin="round" stroke-linecap="round"/>
<polyline points="510.65,74.56 517.84,74.56" fill="none" stroke="#8dc87e" stroke-width="0.95" stroke-linejoin="round" stroke-linecap="butt"/>
<polyline points="491.80,95.30 517.84,95.30" fill="none" stroke="#f5893f" stroke-width="1.5" stroke-linejoin="round" stroke-linecap="butt"/>
<line x1="83.30" y1="115.20" x2="136.80" y2="115.20" stroke="#e6e6e6" stroke-width="0.8"/>
<line x1="83.30" y1="125.60" x2="136.80" y2="125.60" stroke="#e6e6e6" stroke-width="0.8"/>
<line x1="83.30" y1="136.00" x2="136.80" y2="136.00" stroke="#e6e6e6" stroke-width="0.8"/>
<line x1="83.30" y1="115.20" x2="83.30" y2="136.00" stroke="#e6e6e6" stroke-width="0.8"/>
<line x1="101.90" y1="115.20" x2="101.90" y2="136.00" stroke="#e6e6e6" stroke-width="0.8"/>
<line x1="120.50" y1="115.20" x2="120.50" y2="136.00" stroke="#e6e6e6" stroke-width="0.8"/>
<text x="78.70" y="117.00" text-anchor="end" class="t">100</text>
<text x="78.70" y="127.40" text-anchor="end" class="t">50</text>
<text x="78.70" y="137.80" text-anchor="end" class="t">0</text>
<text x="83.30" y="144.90" text-anchor="middle" class="t">0</text>
<text x="101.90" y="144.90" text-anchor="middle" class="t">0.5</text>
<text x="120.50" y="144.90" text-anchor="middle" class="t">1</text>
<polyline points="83.30,136.00 135.38,136.00" fill="none" stroke="#f5893f" stroke-width="1.6" stroke-linejoin="round" stroke-linecap="butt"/>
<line x1="164.00" y1="113.70" x2="217.50" y2="113.70" stroke="#e6e6e6" stroke-width="0.8"/>
<line x1="164.00" y1="124.25" x2="217.50" y2="124.25" stroke="#e6e6e6" stroke-width="0.8"/>
<line x1="164.00" y1="134.80" x2="217.50" y2="134.80" stroke="#e6e6e6" stroke-width="0.8"/>
<line x1="164.00" y1="113.70" x2="164.00" y2="134.80" stroke="#e6e6e6" stroke-width="0.8"/>
<line x1="182.60" y1="113.70" x2="182.60" y2="134.80" stroke="#e6e6e6" stroke-width="0.8"/>
<line x1="201.20" y1="113.70" x2="201.20" y2="134.80" stroke="#e6e6e6" stroke-width="0.8"/>
<text x="159.40" y="115.50" text-anchor="end" class="t">100</text>
<text x="159.40" y="126.05" text-anchor="end" class="t">50</text>
<text x="159.40" y="136.60" text-anchor="end" class="t">0</text>
<text x="164.00" y="143.70" text-anchor="middle" class="t">0</text>
<text x="182.60" y="143.70" text-anchor="middle" class="t">0.5</text>
<text x="201.20" y="143.70" text-anchor="middle" class="t">1</text>
<polyline points="164.00,134.80 197.48,134.80" fill="none" stroke="#f5893f" stroke-width="1.6" stroke-linejoin="round" stroke-linecap="butt"/>
<line x1="246.20" y1="113.70" x2="299.70" y2="113.70" stroke="#e6e6e6" stroke-width="0.8"/>
<line x1="246.20" y1="124.25" x2="299.70" y2="124.25" stroke="#e6e6e6" stroke-width="0.8"/>
<line x1="246.20" y1="134.80" x2="299.70" y2="134.80" stroke="#e6e6e6" stroke-width="0.8"/>
<line x1="246.20" y1="113.70" x2="246.20" y2="134.80" stroke="#e6e6e6" stroke-width="0.8"/>
<line x1="264.80" y1="113.70" x2="264.80" y2="134.80" stroke="#e6e6e6" stroke-width="0.8"/>
<line x1="283.40" y1="113.70" x2="283.40" y2="134.80" stroke="#e6e6e6" stroke-width="0.8"/>
<text x="241.60" y="115.50" text-anchor="end" class="t">100</text>
<text x="241.60" y="126.05" text-anchor="end" class="t">50</text>
<text x="241.60" y="136.60" text-anchor="end" class="t">0</text>
<text x="246.20" y="143.70" text-anchor="middle" class="t">0</text>
<text x="264.80" y="143.70" text-anchor="middle" class="t">0.5</text>
<text x="283.40" y="143.70" text-anchor="middle" class="t">1</text>
<polyline points="246.20,134.80 279.68,134.80" fill="none" stroke="#f5893f" stroke-width="1.6" stroke-linejoin="round" stroke-linecap="butt"/>
<line x1="328.40" y1="113.70" x2="381.90" y2="113.70" stroke="#e6e6e6" stroke-width="0.8"/>
<line x1="328.40" y1="124.25" x2="381.90" y2="124.25" stroke="#e6e6e6" stroke-width="0.8"/>
<line x1="328.40" y1="134.80" x2="381.90" y2="134.80" stroke="#e6e6e6" stroke-width="0.8"/>
<line x1="328.40" y1="113.70" x2="328.40" y2="134.80" stroke="#e6e6e6" stroke-width="0.8"/>
<line x1="347.00" y1="113.70" x2="347.00" y2="134.80" stroke="#e6e6e6" stroke-width="0.8"/>
<line x1="365.60" y1="113.70" x2="365.60" y2="134.80" stroke="#e6e6e6" stroke-width="0.8"/>
<text x="323.80" y="115.50" text-anchor="end" class="t">100</text>
<text x="323.80" y="126.05" text-anchor="end" class="t">50</text>
<text x="323.80" y="136.60" text-anchor="end" class="t">0</text>
<text x="328.40" y="143.70" text-anchor="middle" class="t">0</text>
<text x="347.00" y="143.70" text-anchor="middle" class="t">0.5</text>
<text x="365.60" y="143.70" text-anchor="middle" class="t">1</text>
<polyline points="328.40,134.80 361.88,134.80" fill="none" stroke="#f5893f" stroke-width="1.6" stroke-linejoin="round" stroke-linecap="butt"/>
<line x1="409.80" y1="113.70" x2="463.30" y2="113.70" stroke="#e6e6e6" stroke-width="0.8"/>
<line x1="409.80" y1="124.25" x2="463.30" y2="124.25" stroke="#e6e6e6" stroke-width="0.8"/>
<line x1="409.80" y1="134.80" x2="463.30" y2="134.80" stroke="#e6e6e6" stroke-width="0.8"/>
<line x1="409.80" y1="113.70" x2="409.80" y2="134.80" stroke="#e6e6e6" stroke-width="0.8"/>
<line x1="428.40" y1="113.70" x2="428.40" y2="134.80" stroke="#e6e6e6" stroke-width="0.8"/>
<line x1="447.00" y1="113.70" x2="447.00" y2="134.80" stroke="#e6e6e6" stroke-width="0.8"/>
<text x="405.20" y="115.50" text-anchor="end" class="t">100</text>
<text x="405.20" y="126.05" text-anchor="end" class="t">50</text>
<text x="405.20" y="136.60" text-anchor="end" class="t">0</text>
<text x="409.80" y="143.70" text-anchor="middle" class="t">0</text>
<text x="428.40" y="143.70" text-anchor="middle" class="t">0.5</text>
<text x="447.00" y="143.70" text-anchor="middle" class="t">1</text>
<polyline points="409.80,134.80 435.84,134.80" fill="none" stroke="#f5893f" stroke-width="1.6" stroke-linejoin="round" stroke-linecap="butt"/>
<line x1="491.80" y1="113.70" x2="545.30" y2="113.70" stroke="#e6e6e6" stroke-width="0.8"/>
<line x1="491.80" y1="124.25" x2="545.30" y2="124.25" stroke="#e6e6e6" stroke-width="0.8"/>
<line x1="491.80" y1="134.80" x2="545.30" y2="134.80" stroke="#e6e6e6" stroke-width="0.8"/>
<line x1="491.80" y1="113.70" x2="491.80" y2="134.80" stroke="#e6e6e6" stroke-width="0.8"/>
<line x1="510.40" y1="113.70" x2="510.40" y2="134.80" stroke="#e6e6e6" stroke-width="0.8"/>
<line x1="529.00" y1="113.70" x2="529.00" y2="134.80" stroke="#e6e6e6" stroke-width="0.8"/>
<text x="487.20" y="115.50" text-anchor="end" class="t">100</text>
<text x="487.20" y="126.05" text-anchor="end" class="t">50</text>
<text x="487.20" y="136.60" text-anchor="end" class="t">0</text>
<text x="491.80" y="143.70" text-anchor="middle" class="t">0</text>
<text x="510.40" y="143.70" text-anchor="middle" class="t">0.5</text>
<text x="529.00" y="143.70" text-anchor="middle" class="t">1</text>
<polyline points="491.80,134.80 517.84,134.80" fill="none" stroke="#f5893f" stroke-width="1.6" stroke-linejoin="round" stroke-linecap="butt"/>
<line x1="83.30" y1="156.30" x2="136.80" y2="156.30" stroke="#e6e6e6" stroke-width="0.8"/>
<line x1="83.30" y1="166.50" x2="136.80" y2="166.50" stroke="#e6e6e6" stroke-width="0.8"/>
<line x1="83.30" y1="176.70" x2="136.80" y2="176.70" stroke="#e6e6e6" stroke-width="0.8"/>
<line x1="83.30" y1="156.30" x2="83.30" y2="176.70" stroke="#e6e6e6" stroke-width="0.8"/>
<line x1="101.90" y1="156.30" x2="101.90" y2="176.70" stroke="#e6e6e6" stroke-width="0.8"/>
<line x1="120.50" y1="156.30" x2="120.50" y2="176.70" stroke="#e6e6e6" stroke-width="0.8"/>
<text x="78.70" y="158.10" text-anchor="end" class="t">100</text>
<text x="78.70" y="168.30" text-anchor="end" class="t">50</text>
<text x="78.70" y="178.50" text-anchor="end" class="t">0</text>
<text x="83.30" y="185.60" text-anchor="middle" class="t">0</text>
<text x="101.90" y="185.60" text-anchor="middle" class="t">0.5</text>
<text x="120.50" y="185.60" text-anchor="middle" class="t">1</text>
<polyline points="83.30,176.70 83.54,176.47 83.79,176.23 84.03,176.01 84.28,175.78 84.52,175.56 84.77,175.33 85.01,175.10 85.26,174.87 85.50,174.62 85.75,174.37 85.99,174.12 86.24,173.84 86.47,173.58 86.69,173.31 86.92,173.02 87.14,172.73 87.37,172.42 87.60,172.11 87.82,171.80 88.05,171.48 88.28,171.15 88.50,170.83 88.73,170.50 88.95,170.17 89.18,169.84 89.41,169.49 89.64,169.14 89.87,168.79 90.10,168.43 90.33,168.07 90.56,167.70 90.79,167.34 91.02,166.97 91.25,166.61 91.48,166.25 91.71,165.89 91.94,165.53 92.17,165.16 92.40,164.78 92.62,164.41 92.85,164.03 93.08,163.65 93.31,163.28 93.54,162.92 93.77,162.57 94.00,162.23 94.23,161.91 94.46,161.60 94.71,161.29 94.96,160.98 95.20,160.68 95.45,160.40 95.70,160.11 95.95,159.84 96.20,159.57 96.44,159.31 96.69,159.06 96.94,158.81 97.19,158.57 97.44,158.34 97.62,158.16 97.81,157.97 97.99,157.78 98.18,157.59 98.37,157.40 98.55,157.22 98.74,157.05 98.92,156.90 99.11,156.76 99.30,156.65 99.48,156.56 99.67,156.50 99.79,156.48 99.92,156.45 100.04,156.43 100.16,156.40 100.29,156.38 100.41,156.36" fill="none" stroke="#4a88d6" stroke-width="1.45" stroke-linejoin="round" stroke-linecap="round"/>
<polyline points="100.41,156.36 101.40,156.36" fill="none" stroke="#4a88d6" stroke-width="1.7" stroke-linejoin="round" stroke-linecap="butt"/>
<polyline points="83.30,176.70 83.54,176.50 83.79,176.30 84.03,176.11 84.28,175.92 84.52,175.73 84.77,175.54 85.01,175.35 85.26,175.15 85.50,174.94 85.75,174.72 85.99,174.49 86.24,174.25 86.47,174.01 86.69,173.76 86.92,173.49 87.14,173.22 87.37,172.93 87.60,172.63 87.82,172.33 88.05,172.02 88.28,171.71 88.50,171.40 88.73,171.09 88.95,170.78 89.18,170.48 89.41,170.16 89.64,169.85 89.87,169.53 90.10,169.22 90.33,168.89 90.56,168.57 90.79,168.24 91.02,167.91 91.25,167.58 91.48,167.25 91.71,166.91 91.94,166.56 92.17,166.19 92.40,165.82 92.62,165.44 92.85,165.05 93.08,164.66 93.31,164.28 93.54,163.91 93.77,163.56 94.00,163.22 94.23,162.91 94.46,162.62 94.77,162.27 95.08,161.95 95.39,161.64 95.70,161.35 96.01,161.08 96.32,160.81 96.63,160.55 96.94,160.29 97.25,160.02 97.56,159.75 97.87,159.46 98.18,159.16 98.37,158.96 98.55,158.73 98.74,158.50 98.92,158.26 99.11,158.01 99.30,157.77 99.48,157.53 99.67,157.31 99.85,157.12 100.04,156.95 100.23,156.81 100.41,156.71 100.54,156.66 100.66,156.61 100.78,156.56 100.91,156.51 101.03,156.47 101.16,156.43 101.28,156.39 101.40,156.36" fill="none" stroke="#60b34c" stroke-width="1.45" stroke-linejoin="round" stroke-linecap="round"/>
<polyline points="83.30,176.70 83.54,176.52 83.79,176.34 84.03,176.16 84.28,175.99 84.52,175.82 84.77,175.64 85.01,175.46 85.26,175.28 85.50,175.09 85.75,174.89 85.99,174.68 86.24,174.46 86.47,174.24 86.69,174.00 86.92,173.75 87.14,173.49 87.37,173.22 87.60,172.95 87.82,172.66 88.05,172.37 88.28,172.08 88.50,171.78 88.73,171.49 88.95,171.19 89.18,170.89 89.41,170.59 89.64,170.28 89.87,169.96 90.10,169.64 90.33,169.32 90.56,168.99 90.79,168.66 91.02,168.33 91.25,167.99 91.48,167.65 91.71,167.32 91.94,166.97 92.17,166.61 92.40,166.23 92.62,165.85 92.85,165.47 93.08,165.09 93.31,164.71 93.54,164.34 93.77,163.98 94.00,163.64 94.23,163.33 94.46,163.03 94.77,162.67 95.08,162.33 95.39,162.01 95.70,161.71 96.01,161.42 96.32,161.13 96.63,160.85 96.94,160.57 97.25,160.29 97.56,159.99 97.87,159.69 98.18,159.36 98.37,159.14 98.55,158.90 98.74,158.65 98.92,158.38 99.11,158.12 99.30,157.85 99.48,157.60 99.67,157.36 99.85,157.14 100.04,156.96 100.23,156.81 100.41,156.71 100.54,156.66 100.66,156.60 100.78,156.55 100.91,156.51 101.03,156.46 101.16,156.42 101.28,156.39 101.40,156.36" fill="none" stroke="#f5893f" stroke-width="1.45" stroke-linejoin="round" stroke-linecap="round"/>
<polyline points="101.40,156.36 135.38,156.36" fill="none" stroke="#f5893f" stroke-width="1.7" stroke-linejoin="round" stroke-linecap="butt"/>
<line x1="168.10" y1="153.40" x2="221.60" y2="153.40" stroke="#e6e6e6" stroke-width="0.8"/>
<line x1="168.10" y1="163.95" x2="221.60" y2="163.95" stroke="#e6e6e6" stroke-width="0.8"/>
<line x1="168.10" y1="174.50" x2="221.60" y2="174.50" stroke="#e6e6e6" stroke-width="0.8"/>
<line x1="168.10" y1="153.40" x2="168.10" y2="174.50" stroke="#e6e6e6" stroke-width="0.8"/>
<line x1="186.70" y1="153.40" x2="186.70" y2="174.50" stroke="#e6e6e6" stroke-width="0.8"/>
<line x1="205.30" y1="153.40" x2="205.30" y2="174.50" stroke="#e6e6e6" stroke-width="0.8"/>
<text x="163.50" y="155.20" text-anchor="end" class="t">100</text>
<text x="163.50" y="165.75" text-anchor="end" class="t">50</text>
<text x="163.50" y="176.30" text-anchor="end" class="t">0</text>
<text x="168.10" y="183.40" text-anchor="middle" class="t">0</text>
<text x="186.70" y="183.40" text-anchor="middle" class="t">0.5</text>
<text x="205.30" y="183.40" text-anchor="middle" class="t">1</text>
<polyline points="168.10,174.50 168.37,174.06 168.63,173.61 168.90,173.17 169.17,172.72 169.43,172.27 169.70,171.82 169.97,171.38 170.23,170.93 170.50,170.50 170.77,170.07 171.03,169.64 171.30,169.22 171.60,168.76 171.91,168.32 172.21,167.88 172.51,167.45 172.82,167.03 173.12,166.61 173.43,166.19 173.73,165.76 174.03,165.33 174.34,164.88 174.64,164.43 174.94,163.95 175.17,163.58 175.40,163.19 175.63,162.79 175.86,162.38 176.09,161.96 176.32,161.54 176.55,161.12 176.78,160.70 177.01,160.28 177.24,159.88 177.47,159.48 177.70,159.10 177.93,158.72 178.16,158.33 178.39,157.94 178.62,157.55 178.84,157.16 179.07,156.78 179.30,156.42 179.53,156.07 179.76,155.73 179.99,155.42 180.22,155.13 180.45,154.88 180.60,154.72 180.75,154.55 180.90,154.38 181.05,154.22 181.19,154.06 181.34,153.90 181.49,153.77 181.64,153.64 181.79,153.54 181.94,153.47 182.09,153.42" fill="none" stroke="#4a88d6" stroke-width="1.2" stroke-linejoin="round" stroke-linecap="round"/>
<polyline points="182.09,153.42 182.43,153.42" fill="none" stroke="#7da9e1" stroke-width="1.3" stroke-linejoin="round" stroke-linecap="butt"/>
<polyline points="168.10,174.50 168.37,174.11 168.63,173.72 168.90,173.33 169.17,172.93 169.43,172.54 169.70,172.14 169.97,171.75 170.23,171.36 170.50,170.98 170.77,170.60 171.03,170.22 171.30,169.86 171.60,169.45 171.91,169.06 172.21,168.69 172.51,168.32 172.82,167.95 173.12,167.58 173.43,167.22 173.73,166.84 174.03,166.46 174.34,166.06 174.64,165.65 174.94,165.22 175.17,164.87 175.40,164.52 175.63,164.15 175.86,163.77 176.09,163.38 176.32,162.99 176.55,162.59 176.78,162.18 177.01,161.78 177.24,161.37 177.47,160.97 177.70,160.57 177.93,160.17 178.16,159.75 178.39,159.32 178.62,158.88 178.84,158.44 179.07,158.01 179.30,157.58 179.53,157.17 179.76,156.77 179.99,156.39 180.22,156.04 180.45,155.72 180.63,155.48 180.81,155.22 180.99,154.96 181.17,154.70 181.35,154.44 181.53,154.20 181.71,153.98 181.89,153.79 182.07,153.63 182.25,153.51 182.43,153.43" fill="none" stroke="#60b34c" stroke-width="1.2" stroke-linejoin="round" stroke-linecap="round"/>
<polyline points="182.43,153.43 183.26,153.43" fill="none" stroke="#8dc87e" stroke-width="1.3" stroke-linejoin="round" stroke-linecap="butt"/>
<polyline points="168.10,174.50 168.38,174.18 168.66,173.87 168.94,173.56 169.22,173.25 169.50,172.94 169.77,172.63 170.05,172.31 170.33,172.00 170.61,171.68 170.89,171.36 171.17,171.03 171.45,170.70 171.74,170.35 172.03,170.01 172.32,169.66 172.61,169.32 172.91,168.97 173.20,168.61 173.49,168.25 173.78,167.88 174.07,167.50 174.36,167.10 174.65,166.69 174.94,166.27 175.17,165.92 175.40,165.56 175.63,165.18 175.86,164.78 176.09,164.38 176.32,163.97 176.55,163.55 176.78,163.12 177.01,162.70 177.24,162.27 177.47,161.84 177.70,161.42 177.93,160.99 178.16,160.53 178.39,160.07 178.62,159.60 178.84,159.12 179.07,158.64 179.30,158.18 179.53,157.72 179.76,157.29 179.99,156.88 180.22,156.49 180.45,156.14 180.63,155.88 180.81,155.61 180.99,155.34 181.17,155.07 181.35,154.82 181.53,154.57 181.71,154.34 181.89,154.13 182.07,153.95 182.25,153.80 182.43,153.69 182.61,153.61 182.70,153.58 182.79,153.56 182.89,153.53 182.98,153.51 183.07,153.48 183.17,153.46 183.26,153.45" fill="none" stroke="#f5893f" stroke-width="1.2" stroke-linejoin="round" stroke-linecap="round"/>
<polyline points="183.26,153.45 201.58,153.45" fill="none" stroke="#f8aa75" stroke-width="1.3" stroke-linejoin="round" stroke-linecap="butt"/>
<line x1="248.80" y1="153.40" x2="302.30" y2="153.40" stroke="#e6e6e6" stroke-width="0.8"/>
<line x1="248.80" y1="163.95" x2="302.30" y2="163.95" stroke="#e6e6e6" stroke-width="0.8"/>
<line x1="248.80" y1="174.50" x2="302.30" y2="174.50" stroke="#e6e6e6" stroke-width="0.8"/>
<line x1="248.80" y1="153.40" x2="248.80" y2="174.50" stroke="#e6e6e6" stroke-width="0.8"/>
<line x1="267.40" y1="153.40" x2="267.40" y2="174.50" stroke="#e6e6e6" stroke-width="0.8"/>
<line x1="286.00" y1="153.40" x2="286.00" y2="174.50" stroke="#e6e6e6" stroke-width="0.8"/>
<text x="244.20" y="155.20" text-anchor="end" class="t">100</text>
<text x="244.20" y="165.75" text-anchor="end" class="t">50</text>
<text x="244.20" y="176.30" text-anchor="end" class="t">0</text>
<text x="248.80" y="183.40" text-anchor="middle" class="t">0</text>
<text x="267.40" y="183.40" text-anchor="middle" class="t">0.5</text>
<text x="286.00" y="183.40" text-anchor="middle" class="t">1</text>
<polyline points="248.80,174.50 249.07,174.06 249.33,173.61 249.60,173.17 249.87,172.72 250.13,172.27 250.40,171.82 250.67,171.38 250.93,170.93 251.20,170.50 251.47,170.07 251.73,169.64 252.00,169.22 252.30,168.76 252.61,168.32 252.91,167.88 253.21,167.45 253.52,167.03 253.82,166.61 254.13,166.19 254.43,165.76 254.73,165.33 255.04,164.88 255.34,164.43 255.64,163.95 255.87,163.58 256.10,163.19 256.33,162.79 256.56,162.38 256.79,161.96 257.02,161.54 257.25,161.12 257.48,160.70 257.71,160.28 257.94,159.88 258.17,159.48 258.40,159.10 258.63,158.72 258.86,158.33 259.09,157.94 259.32,157.55 259.54,157.16 259.77,156.78 260.00,156.42 260.23,156.07 260.46,155.73 260.69,155.42 260.92,155.13 261.15,154.88 261.30,154.72 261.45,154.55 261.60,154.38 261.75,154.22 261.89,154.06 262.04,153.90 262.19,153.77 262.34,153.64 262.49,153.54 262.64,153.47 262.79,153.42" fill="none" stroke="#4a88d6" stroke-width="1.2" stroke-linejoin="round" stroke-linecap="round"/>
<polyline points="262.79,153.42 263.13,153.42" fill="none" stroke="#7da9e1" stroke-width="1.3" stroke-linejoin="round" stroke-linecap="butt"/>
<polyline points="248.80,174.50 249.07,174.11 249.33,173.72 249.60,173.33 249.87,172.93 250.13,172.54 250.40,172.14 250.67,171.75 250.93,171.36 251.20,170.98 251.47,170.60 251.73,170.22 252.00,169.86 252.30,169.45 252.61,169.06 252.91,168.69 253.21,168.32 253.52,167.95 253.82,167.58 254.13,167.22 254.43,166.84 254.73,166.46 255.04,166.06 255.34,165.65 255.64,165.22 255.87,164.87 256.10,164.52 256.33,164.15 256.56,163.77 256.79,163.38 257.02,162.99 257.25,162.59 257.48,162.18 257.71,161.78 257.94,161.37 258.17,160.97 258.40,160.57 258.63,160.17 258.86,159.75 259.09,159.32 259.32,158.88 259.54,158.44 259.77,158.01 260.00,157.58 260.23,157.17 260.46,156.77 260.69,156.39 260.92,156.04 261.15,155.72 261.33,155.48 261.51,155.22 261.69,154.96 261.87,154.70 262.05,154.44 262.23,154.20 262.41,153.98 262.59,153.79 262.77,153.63 262.95,153.51 263.13,153.43" fill="none" stroke="#60b34c" stroke-width="1.2" stroke-linejoin="round" stroke-linecap="round"/>
<polyline points="263.13,153.43 263.96,153.43" fill="none" stroke="#8dc87e" stroke-width="1.3" stroke-linejoin="round" stroke-linecap="butt"/>
<polyline points="248.80,174.50 249.08,174.18 249.36,173.87 249.64,173.56 249.92,173.25 250.20,172.94 250.47,172.63 250.75,172.31 251.03,172.00 251.31,171.68 251.59,171.36 251.87,171.03 252.15,170.70 252.44,170.35 252.73,170.01 253.02,169.66 253.31,169.32 253.61,168.97 253.90,168.61 254.19,168.25 254.48,167.88 254.77,167.50 255.06,167.10 255.35,166.69 255.64,166.27 255.87,165.92 256.10,165.56 256.33,165.18 256.56,164.78 256.79,164.38 257.02,163.97 257.25,163.55 257.48,163.12 257.71,162.70 257.94,162.27 258.17,161.84 258.40,161.42 258.63,160.99 258.86,160.53 259.09,160.07 259.32,159.60 259.54,159.12 259.77,158.64 260.00,158.18 260.23,157.72 260.46,157.29 260.69,156.88 260.92,156.49 261.15,156.14 261.33,155.88 261.51,155.61 261.69,155.34 261.87,155.07 262.05,154.82 262.23,154.57 262.41,154.34 262.59,154.13 262.77,153.95 262.95,153.80 263.13,153.69 263.31,153.61 263.40,153.58 263.49,153.56 263.59,153.53 263.68,153.51 263.77,153.48 263.87,153.46 263.96,153.45" fill="none" stroke="#f5893f" stroke-width="1.2" stroke-linejoin="round" stroke-linecap="round"/>
<polyline points="263.96,153.45 282.28,153.45" fill="none" stroke="#f8aa75" stroke-width="1.3" stroke-linejoin="round" stroke-linecap="butt"/>
<line x1="330.10" y1="153.40" x2="383.60" y2="153.40" stroke="#e6e6e6" stroke-width="0.8"/>
<line x1="330.10" y1="163.95" x2="383.60" y2="163.95" stroke="#e6e6e6" stroke-width="0.8"/>
<line x1="330.10" y1="174.50" x2="383.60" y2="174.50" stroke="#e6e6e6" stroke-width="0.8"/>
<line x1="330.10" y1="153.40" x2="330.10" y2="174.50" stroke="#e6e6e6" stroke-width="0.8"/>
<line x1="348.70" y1="153.40" x2="348.70" y2="174.50" stroke="#e6e6e6" stroke-width="0.8"/>
<line x1="367.30" y1="153.40" x2="367.30" y2="174.50" stroke="#e6e6e6" stroke-width="0.8"/>
<text x="325.50" y="155.20" text-anchor="end" class="t">100</text>
<text x="325.50" y="165.75" text-anchor="end" class="t">50</text>
<text x="325.50" y="176.30" text-anchor="end" class="t">0</text>
<text x="330.10" y="183.40" text-anchor="middle" class="t">0</text>
<text x="348.70" y="183.40" text-anchor="middle" class="t">0.5</text>
<text x="367.30" y="183.40" text-anchor="middle" class="t">1</text>
<polyline points="330.10,174.50 330.37,174.06 330.63,173.61 330.90,173.17 331.17,172.72 331.43,172.27 331.70,171.82 331.97,171.38 332.23,170.93 332.50,170.50 332.77,170.07 333.03,169.64 333.30,169.22 333.60,168.76 333.91,168.32 334.21,167.88 334.51,167.45 334.82,167.03 335.12,166.61 335.43,166.19 335.73,165.76 336.03,165.33 336.34,164.88 336.64,164.43 336.94,163.95 337.17,163.58 337.40,163.19 337.63,162.79 337.86,162.38 338.09,161.96 338.32,161.54 338.55,161.12 338.78,160.70 339.01,160.28 339.24,159.88 339.47,159.48 339.70,159.10 339.93,158.72 340.16,158.33 340.39,157.94 340.62,157.55 340.84,157.16 341.07,156.78 341.30,156.42 341.53,156.07 341.76,155.73 341.99,155.42 342.22,155.13 342.45,154.88 342.60,154.72 342.75,154.55 342.90,154.38 343.05,154.22 343.19,154.06 343.34,153.90 343.49,153.77 343.64,153.64 343.79,153.54 343.94,153.47 344.09,153.42" fill="none" stroke="#4a88d6" stroke-width="1.2" stroke-linejoin="round" stroke-linecap="round"/>
<polyline points="344.09,153.42 344.43,153.42" fill="none" stroke="#7da9e1" stroke-width="1.3" stroke-linejoin="round" stroke-linecap="butt"/>
<polyline points="330.10,174.50 330.37,174.11 330.63,173.72 330.90,173.33 331.17,172.93 331.43,172.54 331.70,172.14 331.97,171.75 332.23,171.36 332.50,170.98 332.77,170.60 333.03,170.22 333.30,169.86 333.60,169.45 333.91,169.06 334.21,168.69 334.51,168.32 334.82,167.95 335.12,167.58 335.43,167.22 335.73,166.84 336.03,166.46 336.34,166.06 336.64,165.65 336.94,165.22 337.17,164.87 337.40,164.52 337.63,164.15 337.86,163.77 338.09,163.38 338.32,162.99 338.55,162.59 338.78,162.18 339.01,161.78 339.24,161.37 339.47,160.97 339.70,160.57 339.93,160.17 340.16,159.75 340.39,159.32 340.62,158.88 340.84,158.44 341.07,158.01 341.30,157.58 341.53,157.17 341.76,156.77 341.99,156.39 342.22,156.04 342.45,155.72 342.63,155.48 342.81,155.22 342.99,154.96 343.17,154.70 343.35,154.44 343.53,154.20 343.71,153.98 343.89,153.79 344.07,153.63 344.25,153.51 344.43,153.43" fill="none" stroke="#60b34c" stroke-width="1.2" stroke-linejoin="round" stroke-linecap="round"/>
<polyline points="344.43,153.43 345.26,153.43" fill="none" stroke="#8dc87e" stroke-width="1.3" stroke-linejoin="round" stroke-linecap="butt"/>
<polyline points="330.10,174.50 330.38,174.18 330.66,173.87 330.94,173.56 331.22,173.25 331.50,172.94 331.77,172.63 332.05,172.31 332.33,172.00 332.61,171.68 332.89,171.36 333.17,171.03 333.45,170.70 333.74,170.35 334.03,170.01 334.32,169.66 334.61,169.32 334.91,168.97 335.20,168.61 335.49,168.25 335.78,167.88 336.07,167.50 336.36,167.10 336.65,166.69 336.94,166.27 337.17,165.92 337.40,165.56 337.63,165.18 337.86,164.78 338.09,164.38 338.32,163.97 338.55,163.55 338.78,163.12 339.01,162.70 339.24,162.27 339.47,161.84 339.70,161.42 339.93,160.99 340.16,160.53 340.39,160.07 340.62,159.60 340.84,159.12 341.07,158.64 341.30,158.18 341.53,157.72 341.76,157.29 341.99,156.88 342.22,156.49 342.45,156.14 342.63,155.88 342.81,155.61 342.99,155.34 343.17,155.07 343.35,154.82 343.53,154.57 343.71,154.34 343.89,154.13 344.07,153.95 344.25,153.80 344.43,153.69 344.61,153.61 344.70,153.58 344.79,153.56 344.89,153.53 344.98,153.51 345.07,153.48 345.17,153.46 345.26,153.45" fill="none" stroke="#f5893f" stroke-width="1.2" stroke-linejoin="round" stroke-linecap="round"/>
<polyline points="345.26,153.45 363.58,153.45" fill="none" stroke="#f8aa75" stroke-width="1.3" stroke-linejoin="round" stroke-linecap="butt"/>
<line x1="410.80" y1="153.40" x2="464.30" y2="153.40" stroke="#e6e6e6" stroke-width="0.8"/>
<line x1="410.80" y1="163.95" x2="464.30" y2="163.95" stroke="#e6e6e6" stroke-width="0.8"/>
<line x1="410.80" y1="174.50" x2="464.30" y2="174.50" stroke="#e6e6e6" stroke-width="0.8"/>
<line x1="410.80" y1="153.40" x2="410.80" y2="174.50" stroke="#e6e6e6" stroke-width="0.8"/>
<line x1="429.40" y1="153.40" x2="429.40" y2="174.50" stroke="#e6e6e6" stroke-width="0.8"/>
<line x1="448.00" y1="153.40" x2="448.00" y2="174.50" stroke="#e6e6e6" stroke-width="0.8"/>
<text x="406.20" y="155.20" text-anchor="end" class="t">100</text>
<text x="406.20" y="165.75" text-anchor="end" class="t">50</text>
<text x="406.20" y="176.30" text-anchor="end" class="t">0</text>
<text x="410.80" y="183.40" text-anchor="middle" class="t">0</text>
<text x="429.40" y="183.40" text-anchor="middle" class="t">0.5</text>
<text x="448.00" y="183.40" text-anchor="middle" class="t">1</text>
<polyline points="410.80,174.50 411.07,174.06 411.33,173.61 411.60,173.17 411.87,172.72 412.13,172.27 412.40,171.82 412.67,171.38 412.93,170.93 413.20,170.50 413.47,170.07 413.73,169.64 414.00,169.22 414.30,168.76 414.61,168.32 414.91,167.88 415.21,167.45 415.52,167.03 415.82,166.61 416.13,166.19 416.43,165.76 416.73,165.33 417.04,164.88 417.34,164.43 417.64,163.95 417.87,163.58 418.10,163.19 418.33,162.79 418.56,162.38 418.79,161.96 419.02,161.54 419.25,161.12 419.48,160.70 419.71,160.28 419.94,159.88 420.17,159.48 420.40,159.10 420.63,158.72 420.86,158.33 421.09,157.94 421.32,157.55 421.54,157.16 421.77,156.78 422.00,156.42 422.23,156.07 422.46,155.73 422.69,155.42 422.92,155.13 423.15,154.88 423.30,154.72 423.45,154.55 423.60,154.38 423.75,154.22 423.89,154.06 424.04,153.90 424.19,153.77 424.34,153.64 424.49,153.54 424.64,153.47 424.79,153.42" fill="none" stroke="#4a88d6" stroke-width="1.2" stroke-linejoin="round" stroke-linecap="round"/>
<polyline points="424.79,153.42 425.13,153.42" fill="none" stroke="#7da9e1" stroke-width="1.3" stroke-linejoin="round" stroke-linecap="butt"/>
<polyline points="410.80,174.50 411.07,174.11 411.33,173.72 411.60,173.33 411.87,172.93 412.13,172.54 412.40,172.14 412.67,171.75 412.93,171.36 413.20,170.98 413.47,170.60 413.73,170.22 414.00,169.86 414.30,169.45 414.61,169.06 414.91,168.69 415.21,168.32 415.52,167.95 415.82,167.58 416.13,167.22 416.43,166.84 416.73,166.46 417.04,166.06 417.34,165.65 417.64,165.22 417.87,164.87 418.10,164.52 418.33,164.15 418.56,163.77 418.79,163.38 419.02,162.99 419.25,162.59 419.48,162.18 419.71,161.78 419.94,161.37 420.17,160.97 420.40,160.57 420.63,160.17 420.86,159.75 421.09,159.32 421.32,158.88 421.54,158.44 421.77,158.01 422.00,157.58 422.23,157.17 422.46,156.77 422.69,156.39 422.92,156.04 423.15,155.72 423.33,155.48 423.51,155.22 423.69,154.96 423.87,154.70 424.05,154.44 424.23,154.20 424.41,153.98 424.59,153.79 424.77,153.63 424.95,153.51 425.13,153.43" fill="none" stroke="#60b34c" stroke-width="1.2" stroke-linejoin="round" stroke-linecap="round"/>
<polyline points="425.13,153.43 425.96,153.43" fill="none" stroke="#8dc87e" stroke-width="1.3" stroke-linejoin="round" stroke-linecap="butt"/>
<polyline points="410.80,174.50 411.08,174.18 411.36,173.87 411.64,173.56 411.92,173.25 412.19,172.94 412.47,172.63 412.75,172.31 413.03,172.00 413.31,171.68 413.59,171.36 413.87,171.03 414.15,170.70 414.44,170.35 414.73,170.01 415.02,169.66 415.31,169.32 415.61,168.97 415.90,168.61 416.19,168.25 416.48,167.88 416.77,167.50 417.06,167.10 417.35,166.69 417.64,166.27 417.87,165.92 418.10,165.56 418.33,165.18 418.56,164.78 418.79,164.38 419.02,163.97 419.25,163.55 419.48,163.12 419.71,162.70 419.94,162.27 420.17,161.84 420.40,161.42 420.63,160.99 420.86,160.53 421.09,160.07 421.32,159.60 421.54,159.12 421.77,158.64 422.00,158.18 422.23,157.72 422.46,157.29 422.69,156.88 422.92,156.49 423.15,156.14 423.33,155.88 423.51,155.61 423.69,155.34 423.87,155.07 424.05,154.82 424.23,154.57 424.41,154.34 424.59,154.13 424.77,153.95 424.95,153.80 425.13,153.69 425.31,153.61 425.40,153.58 425.49,153.56 425.59,153.53 425.68,153.51 425.77,153.48 425.87,153.46 425.96,153.45" fill="none" stroke="#f5893f" stroke-width="1.2" stroke-linejoin="round" stroke-linecap="round"/>
<polyline points="425.96,153.45 436.84,153.45" fill="none" stroke="#f8aa75" stroke-width="1.3" stroke-linejoin="round" stroke-linecap="butt"/>
<line x1="491.80" y1="153.40" x2="545.30" y2="153.40" stroke="#e6e6e6" stroke-width="0.8"/>
<line x1="491.80" y1="163.95" x2="545.30" y2="163.95" stroke="#e6e6e6" stroke-width="0.8"/>
<line x1="491.80" y1="174.50" x2="545.30" y2="174.50" stroke="#e6e6e6" stroke-width="0.8"/>
<line x1="491.80" y1="153.40" x2="491.80" y2="174.50" stroke="#e6e6e6" stroke-width="0.8"/>
<line x1="510.40" y1="153.40" x2="510.40" y2="174.50" stroke="#e6e6e6" stroke-width="0.8"/>
<line x1="529.00" y1="153.40" x2="529.00" y2="174.50" stroke="#e6e6e6" stroke-width="0.8"/>
<text x="487.20" y="155.20" text-anchor="end" class="t">100</text>
<text x="487.20" y="165.75" text-anchor="end" class="t">50</text>
<text x="487.20" y="176.30" text-anchor="end" class="t">0</text>
<text x="491.80" y="183.40" text-anchor="middle" class="t">0</text>
<text x="510.40" y="183.40" text-anchor="middle" class="t">0.5</text>
<text x="529.00" y="183.40" text-anchor="middle" class="t">1</text>
<polyline points="491.80,174.50 492.08,174.12 492.36,173.74 492.64,173.37 492.92,173.00 493.19,172.63 493.47,172.25 493.75,171.88 494.03,171.50 494.31,171.10 494.59,170.70 494.87,170.29 495.15,169.86 495.37,169.51 495.58,169.16 495.80,168.80 496.02,168.43 496.23,168.06 496.45,167.68 496.67,167.29 496.88,166.89 497.10,166.48 497.32,166.07 497.54,165.65 497.75,165.22 497.97,164.77 498.19,164.29 498.40,163.79 498.62,163.28 498.84,162.76 499.05,162.23 499.27,161.70 499.49,161.18 499.71,160.68 499.92,160.20 500.14,159.74 500.36,159.31 500.57,158.90 500.79,158.48 501.01,158.08 501.22,157.67 501.44,157.28 501.66,156.90 501.88,156.54 502.09,156.19 502.31,155.87 502.53,155.58 502.74,155.32 502.96,155.09 503.15,154.91 503.33,154.72 503.52,154.55 503.70,154.37 503.89,154.21 504.08,154.06 504.26,153.92 504.45,153.79 504.63,153.69 504.82,153.60 505.01,153.54 505.19,153.51 505.32,153.49 505.44,153.48 505.56,153.46 505.69,153.45" fill="none" stroke="#4a88d6" stroke-width="1.2" stroke-linejoin="round" stroke-linecap="round"/>
<polyline points="505.69,153.45 506.21,153.45" fill="none" stroke="#7da9e1" stroke-width="1.3" stroke-linejoin="round" stroke-linecap="butt"/>
<polyline points="491.80,174.50 492.09,174.17 492.38,173.85 492.67,173.53 492.97,173.21 493.26,172.89 493.55,172.57 493.84,172.25 494.13,171.92 494.42,171.58 494.71,171.23 495.01,170.87 495.30,170.49 495.52,170.19 495.75,169.88 495.98,169.56 496.20,169.23 496.43,168.90 496.65,168.55 496.88,168.20 497.11,167.84 497.33,167.46 497.56,167.08 497.79,166.68 498.01,166.27 498.24,165.83 498.47,165.36 498.69,164.85 498.92,164.32 499.14,163.77 499.37,163.22 499.60,162.67 499.82,162.12 500.05,161.59 500.28,161.08 500.50,160.60 500.73,160.15 500.96,159.72 501.19,159.30 501.43,158.88 501.66,158.48 501.89,158.09 502.12,157.70 502.36,157.34 502.59,156.98 502.82,156.64 503.05,156.32 503.29,156.01 503.52,155.72 503.71,155.49 503.90,155.25 504.09,155.01 504.27,154.77 504.46,154.53 504.65,154.31 504.84,154.11 505.03,153.93 505.22,153.77 505.41,153.64 505.60,153.55 505.79,153.51 505.89,153.49 506.00,153.48 506.10,153.46 506.21,153.45" fill="none" stroke="#60b34c" stroke-width="1.2" stroke-linejoin="round" stroke-linecap="round"/>
<polyline points="506.21,153.45 506.42,153.45" fill="none" stroke="#8dc87e" stroke-width="1.3" stroke-linejoin="round" stroke-linecap="butt"/>
<polyline points="491.80,174.50 492.09,174.19 492.38,173.90 492.67,173.60 492.97,173.31 493.26,173.02 493.55,172.73 493.84,172.43 494.13,172.12 494.42,171.81 494.71,171.48 495.01,171.14 495.30,170.79 495.52,170.50 495.75,170.20 495.98,169.90 496.20,169.58 496.43,169.26 496.65,168.93 496.88,168.58 497.11,168.23 497.33,167.86 497.56,167.49 497.79,167.10 498.01,166.69 498.24,166.26 498.47,165.79 498.69,165.29 498.92,164.77 499.14,164.22 499.37,163.67 499.60,163.12 499.82,162.57 500.05,162.03 500.28,161.52 500.50,161.03 500.73,160.57 500.96,160.13 501.19,159.69 501.43,159.26 501.66,158.84 501.89,158.43 502.12,158.02 502.36,157.63 502.59,157.26 502.82,156.90 503.05,156.56 503.29,156.23 503.52,155.93 503.71,155.69 503.90,155.44 504.09,155.20 504.27,154.95 504.46,154.72 504.65,154.49 504.84,154.28 505.03,154.09 505.22,153.93 505.41,153.79 505.60,153.68 505.79,153.61 505.89,153.58 506.00,153.56 506.10,153.53 506.21,153.51 506.31,153.48 506.42,153.46" fill="none" stroke="#f5893f" stroke-width="1.2" stroke-linejoin="round" stroke-linecap="round"/>
<polyline points="506.42,153.46 517.84,153.46" fill="none" stroke="#f8aa75" stroke-width="1.3" stroke-linejoin="round" stroke-linecap="butt"/>
<line x1="83.30" y1="191.90" x2="136.80" y2="191.90" stroke="#e6e6e6" stroke-width="0.8"/>
<line x1="83.30" y1="202.10" x2="136.80" y2="202.10" stroke="#e6e6e6" stroke-width="0.8"/>
<line x1="83.30" y1="212.30" x2="136.80" y2="212.30" stroke="#e6e6e6" stroke-width="0.8"/>
<line x1="83.30" y1="191.90" x2="83.30" y2="212.30" stroke="#e6e6e6" stroke-width="0.8"/>
<line x1="101.90" y1="191.90" x2="101.90" y2="212.30" stroke="#e6e6e6" stroke-width="0.8"/>
<line x1="120.50" y1="191.90" x2="120.50" y2="212.30" stroke="#e6e6e6" stroke-width="0.8"/>
<text x="78.70" y="193.70" text-anchor="end" class="t">100</text>
<text x="78.70" y="203.90" text-anchor="end" class="t">50</text>
<text x="78.70" y="214.10" text-anchor="end" class="t">0</text>
<text x="83.30" y="221.20" text-anchor="middle" class="t">0</text>
<text x="101.90" y="221.20" text-anchor="middle" class="t">0.5</text>
<text x="120.50" y="221.20" text-anchor="middle" class="t">1</text>
<polyline points="117.90,212.30 122.73,196.39 127.94,195.37 135.75,192.31" fill="none" stroke="#4a88d6" stroke-width="1.35" stroke-linejoin="round" stroke-linecap="round"/>
<polyline points="131.29,212.30 135.75,193.53" fill="none" stroke="#60b34c" stroke-width="1.35" stroke-linejoin="round" stroke-linecap="round"/>
<polyline points="83.30,212.30 131.29,212.30" fill="none" stroke="#f5893f" stroke-width="1.6" stroke-linejoin="round" stroke-linecap="butt"/>
<polyline points="131.29,212.30 135.75,194.96" fill="none" stroke="#f5893f" stroke-width="1.35" stroke-linejoin="round" stroke-linecap="round"/>
<line x1="168.10" y1="193.30" x2="221.60" y2="193.30" stroke="#e6e6e6" stroke-width="0.8"/>
<line x1="168.10" y1="203.70" x2="221.60" y2="203.70" stroke="#e6e6e6" stroke-width="0.8"/>
<line x1="168.10" y1="214.10" x2="221.60" y2="214.10" stroke="#e6e6e6" stroke-width="0.8"/>
<line x1="168.10" y1="193.30" x2="168.10" y2="214.10" stroke="#e6e6e6" stroke-width="0.8"/>
<line x1="186.70" y1="193.30" x2="186.70" y2="214.10" stroke="#e6e6e6" stroke-width="0.8"/>
<line x1="205.30" y1="193.30" x2="205.30" y2="214.10" stroke="#e6e6e6" stroke-width="0.8"/>
<text x="163.50" y="195.10" text-anchor="end" class="t">100</text>
<text x="163.50" y="205.50" text-anchor="end" class="t">50</text>
<text x="163.50" y="215.90" text-anchor="end" class="t">0</text>
<text x="168.10" y="223.00" text-anchor="middle" class="t">0</text>
<text x="186.70" y="223.00" text-anchor="middle" class="t">0.5</text>
<text x="205.30" y="223.00" text-anchor="middle" class="t">1</text>
<polyline points="200.09,214.10 201.02,214.10" fill="none" stroke="#acb6bf" stroke-width="1.0" stroke-linejoin="round" stroke-linecap="butt"/>
<polyline points="168.10,214.10 200.09,214.10" fill="none" stroke="#f8aa75" stroke-width="1.0" stroke-linejoin="round" stroke-linecap="butt"/>
<line x1="248.80" y1="193.30" x2="302.30" y2="193.30" stroke="#e6e6e6" stroke-width="0.8"/>
<line x1="248.80" y1="203.70" x2="302.30" y2="203.70" stroke="#e6e6e6" stroke-width="0.8"/>
<line x1="248.80" y1="214.10" x2="302.30" y2="214.10" stroke="#e6e6e6" stroke-width="0.8"/>
<line x1="248.80" y1="193.30" x2="248.80" y2="214.10" stroke="#e6e6e6" stroke-width="0.8"/>
<line x1="267.40" y1="193.30" x2="267.40" y2="214.10" stroke="#e6e6e6" stroke-width="0.8"/>
<line x1="286.00" y1="193.30" x2="286.00" y2="214.10" stroke="#e6e6e6" stroke-width="0.8"/>
<text x="244.20" y="195.10" text-anchor="end" class="t">100</text>
<text x="244.20" y="205.50" text-anchor="end" class="t">50</text>
<text x="244.20" y="215.90" text-anchor="end" class="t">0</text>
<text x="248.80" y="223.00" text-anchor="middle" class="t">0</text>
<text x="267.40" y="223.00" text-anchor="middle" class="t">0.5</text>
<text x="286.00" y="223.00" text-anchor="middle" class="t">1</text>
<polyline points="249.25,214.10 249.36,214.00 249.48,213.73 249.60,213.29 249.72,212.73 249.84,212.06 249.95,211.31 250.07,210.50 250.19,209.65 250.31,208.80 250.42,207.95 250.54,207.15 250.66,206.40 250.77,205.68 250.89,204.89 251.00,204.05 251.12,203.18 251.23,202.31 251.35,201.43 251.46,200.58 251.58,199.76 251.69,199.01 251.81,198.32 251.92,197.73 252.04,197.25 252.14,196.86 252.25,196.47 252.36,196.11 252.47,195.75 252.58,195.42 252.69,195.11 252.80,194.83 252.90,194.58 253.01,194.36 253.12,194.17 253.23,194.03 253.34,193.92 253.46,193.84 253.57,193.75 253.69,193.68 253.81,193.60 253.93,193.54 254.05,193.48 254.16,193.43 254.28,193.38 254.40,193.35" fill="none" stroke="#4a88d6" stroke-width="1.2" stroke-linejoin="round" stroke-linecap="round"/>
<polyline points="254.40,193.35 258.72,193.35" fill="none" stroke="#7da9e1" stroke-width="1.0" stroke-linejoin="round" stroke-linecap="butt"/>
<polyline points="252.14,214.06 252.25,213.93 252.36,213.73 252.47,213.46 252.58,213.14 252.69,212.78 252.80,212.38 252.90,211.95 253.01,211.50 253.12,211.05 253.23,210.59 253.34,210.15 253.45,209.65 253.57,209.09 253.68,208.48 253.80,207.82 253.91,207.13 254.03,206.40 254.14,205.65 254.26,204.88 254.37,204.11 254.49,203.34 254.60,202.57 254.71,201.83 254.79,201.32 254.86,200.77 254.94,200.19 255.01,199.59 255.09,198.98 255.16,198.39 255.24,197.81 255.31,197.28 255.38,196.80 255.46,196.38 255.53,196.04 255.61,195.80 255.72,195.51 255.84,195.24 255.95,194.99 256.07,194.76 256.18,194.55 256.30,194.37 256.41,194.20 256.53,194.06 256.64,193.94 256.75,193.84 256.87,193.76 256.98,193.72 257.20,193.65 257.42,193.59 257.63,193.54 257.85,193.49 258.07,193.44 258.29,193.41 258.50,193.37 258.72,193.35" fill="none" stroke="#60b34c" stroke-width="1.2" stroke-linejoin="round" stroke-linecap="round"/>
<polyline points="258.72,193.35 260.44,193.35" fill="none" stroke="#8dc87e" stroke-width="1.0" stroke-linejoin="round" stroke-linecap="butt"/>
<polyline points="248.80,214.10 255.61,214.10" fill="none" stroke="#f8aa75" stroke-width="1.15" stroke-linejoin="round" stroke-linecap="butt"/>
<polyline points="255.61,214.10 255.69,214.03 255.76,213.82 255.84,213.50 255.92,213.08 256.00,212.58 256.07,212.01 256.15,211.39 256.23,210.73 256.31,210.05 256.38,209.37 256.46,208.70 256.54,208.07 256.61,207.42 256.69,206.68 256.76,205.86 256.84,204.99 256.91,204.10 256.98,203.20 257.06,202.31 257.13,201.47 257.21,200.68 257.28,199.98 257.36,199.38 257.43,198.92 257.51,198.51 257.59,198.13 257.66,197.77 257.74,197.44 257.82,197.12 257.90,196.83 257.97,196.56 258.05,196.32 258.13,196.10 258.21,195.90 258.28,195.73 258.36,195.59 258.55,195.27 258.74,194.97 258.93,194.69 259.12,194.42 259.31,194.18 259.50,193.96 259.68,193.77 259.87,193.61 260.06,193.48 260.25,193.38 260.44,193.32" fill="none" stroke="#f5893f" stroke-width="1.2" stroke-linejoin="round" stroke-linecap="round"/>
<polyline points="260.44,193.32 282.28,193.32" fill="none" stroke="#f8aa75" stroke-width="1.0" stroke-linejoin="round" stroke-linecap="butt"/>
<line x1="329.80" y1="193.30" x2="383.30" y2="193.30" stroke="#e6e6e6" stroke-width="0.8"/>
<line x1="329.80" y1="203.70" x2="383.30" y2="203.70" stroke="#e6e6e6" stroke-width="0.8"/>
<line x1="329.80" y1="214.10" x2="383.30" y2="214.10" stroke="#e6e6e6" stroke-width="0.8"/>
<line x1="329.80" y1="193.30" x2="329.80" y2="214.10" stroke="#e6e6e6" stroke-width="0.8"/>
<line x1="348.40" y1="193.30" x2="348.40" y2="214.10" stroke="#e6e6e6" stroke-width="0.8"/>
<line x1="367.00" y1="193.30" x2="367.00" y2="214.10" stroke="#e6e6e6" stroke-width="0.8"/>
<text x="325.20" y="195.10" text-anchor="end" class="t">100</text>
<text x="325.20" y="205.50" text-anchor="end" class="t">50</text>
<text x="325.20" y="215.90" text-anchor="end" class="t">0</text>
<text x="329.80" y="223.00" text-anchor="middle" class="t">0</text>
<text x="348.40" y="223.00" text-anchor="middle" class="t">0.5</text>
<text x="367.00" y="223.00" text-anchor="middle" class="t">1</text>
<polyline points="330.25,214.10 330.36,214.00 330.48,213.73 330.60,213.29 330.72,212.73 330.84,212.06 330.95,211.31 331.07,210.50 331.19,209.65 331.31,208.80 331.42,207.95 331.54,207.15 331.66,206.40 331.77,205.68 331.89,204.89 332.00,204.05 332.12,203.18 332.23,202.31 332.35,201.43 332.46,200.58 332.58,199.76 332.69,199.01 332.81,198.32 332.92,197.73 333.04,197.25 333.14,196.86 333.25,196.47 333.36,196.11 333.47,195.75 333.58,195.42 333.69,195.11 333.80,194.83 333.90,194.58 334.01,194.36 334.12,194.17 334.23,194.03 334.34,193.92 334.46,193.84 334.57,193.75 334.69,193.68 334.81,193.60 334.93,193.54 335.05,193.48 335.16,193.43 335.28,193.38 335.40,193.35" fill="none" stroke="#4a88d6" stroke-width="1.2" stroke-linejoin="round" stroke-linecap="round"/>
<polyline points="335.40,193.35 339.72,193.35" fill="none" stroke="#7da9e1" stroke-width="1.0" stroke-linejoin="round" stroke-linecap="butt"/>
<polyline points="333.14,214.06 333.25,213.93 333.36,213.73 333.47,213.46 333.58,213.14 333.69,212.78 333.80,212.38 333.90,211.95 334.01,211.50 334.12,211.05 334.23,210.59 334.34,210.15 334.45,209.65 334.57,209.09 334.68,208.48 334.80,207.82 334.91,207.13 335.03,206.40 335.14,205.65 335.26,204.88 335.37,204.11 335.49,203.34 335.60,202.57 335.71,201.83 335.79,201.32 335.86,200.77 335.94,200.19 336.01,199.59 336.09,198.98 336.16,198.39 336.24,197.81 336.31,197.28 336.38,196.80 336.46,196.38 336.53,196.04 336.61,195.80 336.72,195.51 336.84,195.24 336.95,194.99 337.07,194.76 337.18,194.55 337.30,194.37 337.41,194.20 337.53,194.06 337.64,193.94 337.75,193.84 337.87,193.76 337.98,193.72 338.20,193.65 338.42,193.59 338.63,193.54 338.85,193.49 339.07,193.44 339.29,193.41 339.50,193.37 339.72,193.35" fill="none" stroke="#60b34c" stroke-width="1.2" stroke-linejoin="round" stroke-linecap="round"/>
<polyline points="339.72,193.35 341.44,193.35" fill="none" stroke="#8dc87e" stroke-width="1.0" stroke-linejoin="round" stroke-linecap="butt"/>
<polyline points="329.80,214.10 336.61,214.10" fill="none" stroke="#f8aa75" stroke-width="1.15" stroke-linejoin="round" stroke-linecap="butt"/>
<polyline points="336.61,214.10 336.69,214.03 336.76,213.82 336.84,213.50 336.92,213.08 337.00,212.58 337.07,212.01 337.15,211.39 337.23,210.73 337.31,210.05 337.38,209.37 337.46,208.70 337.54,208.07 337.61,207.42 337.69,206.68 337.76,205.86 337.84,204.99 337.91,204.10 337.98,203.20 338.06,202.31 338.13,201.47 338.21,200.68 338.28,199.98 338.36,199.38 338.43,198.92 338.51,198.51 338.59,198.13 338.66,197.77 338.74,197.44 338.82,197.12 338.90,196.83 338.97,196.56 339.05,196.32 339.13,196.10 339.21,195.90 339.28,195.73 339.36,195.59 339.55,195.27 339.74,194.97 339.93,194.69 340.12,194.42 340.31,194.18 340.50,193.96 340.68,193.77 340.87,193.61 341.06,193.48 341.25,193.38 341.44,193.32" fill="none" stroke="#f5893f" stroke-width="1.2" stroke-linejoin="round" stroke-linecap="round"/>
<polyline points="341.44,193.32 363.28,193.32" fill="none" stroke="#f8aa75" stroke-width="1.0" stroke-linejoin="round" stroke-linecap="butt"/>
<line x1="410.80" y1="193.30" x2="464.30" y2="193.30" stroke="#e6e6e6" stroke-width="0.8"/>
<line x1="410.80" y1="203.70" x2="464.30" y2="203.70" stroke="#e6e6e6" stroke-width="0.8"/>
<line x1="410.80" y1="214.10" x2="464.30" y2="214.10" stroke="#e6e6e6" stroke-width="0.8"/>
<line x1="410.80" y1="193.30" x2="410.80" y2="214.10" stroke="#e6e6e6" stroke-width="0.8"/>
<line x1="429.40" y1="193.30" x2="429.40" y2="214.10" stroke="#e6e6e6" stroke-width="0.8"/>
<line x1="448.00" y1="193.30" x2="448.00" y2="214.10" stroke="#e6e6e6" stroke-width="0.8"/>
<text x="406.20" y="195.10" text-anchor="end" class="t">100</text>
<text x="406.20" y="205.50" text-anchor="end" class="t">50</text>
<text x="406.20" y="215.90" text-anchor="end" class="t">0</text>
<text x="410.80" y="223.00" text-anchor="middle" class="t">0</text>
<text x="429.40" y="223.00" text-anchor="middle" class="t">0.5</text>
<text x="448.00" y="223.00" text-anchor="middle" class="t">1</text>
<polyline points="411.25,214.10 411.36,214.00 411.48,213.73 411.60,213.29 411.72,212.73 411.84,212.06 411.95,211.31 412.07,210.50 412.19,209.65 412.31,208.80 412.42,207.95 412.54,207.15 412.66,206.40 412.77,205.68 412.89,204.89 413.00,204.05 413.12,203.18 413.23,202.31 413.35,201.43 413.46,200.58 413.58,199.76 413.69,199.01 413.81,198.32 413.92,197.73 414.04,197.25 414.14,196.86 414.25,196.47 414.36,196.11 414.47,195.75 414.58,195.42 414.69,195.11 414.80,194.83 414.90,194.58 415.01,194.36 415.12,194.17 415.23,194.03 415.34,193.92 415.46,193.84 415.57,193.75 415.69,193.68 415.81,193.60 415.93,193.54 416.05,193.48 416.16,193.43 416.28,193.38 416.40,193.35" fill="none" stroke="#4a88d6" stroke-width="1.2" stroke-linejoin="round" stroke-linecap="round"/>
<polyline points="416.40,193.35 420.72,193.35" fill="none" stroke="#7da9e1" stroke-width="1.0" stroke-linejoin="round" stroke-linecap="butt"/>
<polyline points="414.14,214.06 414.25,213.93 414.36,213.73 414.47,213.46 414.58,213.14 414.69,212.78 414.80,212.38 414.90,211.95 415.01,211.50 415.12,211.05 415.23,210.59 415.34,210.15 415.45,209.65 415.57,209.09 415.68,208.48 415.80,207.82 415.91,207.13 416.03,206.40 416.14,205.65 416.26,204.88 416.37,204.11 416.49,203.34 416.60,202.57 416.71,201.83 416.79,201.32 416.86,200.77 416.94,200.19 417.01,199.59 417.09,198.98 417.16,198.39 417.24,197.81 417.31,197.28 417.38,196.80 417.46,196.38 417.53,196.04 417.61,195.80 417.72,195.51 417.84,195.24 417.95,194.99 418.07,194.76 418.18,194.55 418.30,194.37 418.41,194.20 418.53,194.06 418.64,193.94 418.75,193.84 418.87,193.76 418.98,193.72 419.20,193.65 419.42,193.59 419.63,193.54 419.85,193.49 420.07,193.44 420.29,193.41 420.50,193.37 420.72,193.35" fill="none" stroke="#60b34c" stroke-width="1.2" stroke-linejoin="round" stroke-linecap="round"/>
<polyline points="420.72,193.35 422.44,193.35" fill="none" stroke="#8dc87e" stroke-width="1.0" stroke-linejoin="round" stroke-linecap="butt"/>
<polyline points="410.80,214.10 417.61,214.10" fill="none" stroke="#f8aa75" stroke-width="1.15" stroke-linejoin="round" stroke-linecap="butt"/>
<polyline points="417.61,214.10 417.69,214.03 417.76,213.82 417.84,213.50 417.92,213.08 418.00,212.58 418.07,212.01 418.15,211.39 418.23,210.73 418.31,210.05 418.38,209.37 418.46,208.70 418.54,208.07 418.61,207.42 418.69,206.68 418.76,205.86 418.84,204.99 418.91,204.10 418.98,203.20 419.06,202.31 419.13,201.47 419.21,200.68 419.28,199.98 419.36,199.38 419.43,198.92 419.51,198.51 419.59,198.13 419.66,197.77 419.74,197.44 419.82,197.12 419.90,196.83 419.97,196.56 420.05,196.32 420.13,196.10 420.21,195.90 420.28,195.73 420.36,195.59 420.55,195.27 420.74,194.97 420.93,194.69 421.12,194.42 421.31,194.18 421.50,193.96 421.68,193.77 421.87,193.61 422.06,193.48 422.25,193.38 422.44,193.32" fill="none" stroke="#f5893f" stroke-width="1.2" stroke-linejoin="round" stroke-linecap="round"/>
<polyline points="422.44,193.32 436.84,193.32" fill="none" stroke="#f8aa75" stroke-width="1.0" stroke-linejoin="round" stroke-linecap="butt"/>
<line x1="491.80" y1="193.30" x2="545.30" y2="193.30" stroke="#e6e6e6" stroke-width="0.8"/>
<line x1="491.80" y1="203.70" x2="545.30" y2="203.70" stroke="#e6e6e6" stroke-width="0.8"/>
<line x1="491.80" y1="214.10" x2="545.30" y2="214.10" stroke="#e6e6e6" stroke-width="0.8"/>
<line x1="491.80" y1="193.30" x2="491.80" y2="214.10" stroke="#e6e6e6" stroke-width="0.8"/>
<line x1="510.40" y1="193.30" x2="510.40" y2="214.10" stroke="#e6e6e6" stroke-width="0.8"/>
<line x1="529.00" y1="193.30" x2="529.00" y2="214.10" stroke="#e6e6e6" stroke-width="0.8"/>
<text x="487.20" y="195.10" text-anchor="end" class="t">100</text>
<text x="487.20" y="205.50" text-anchor="end" class="t">50</text>
<text x="487.20" y="215.90" text-anchor="end" class="t">0</text>
<text x="491.80" y="223.00" text-anchor="middle" class="t">0</text>
<text x="510.40" y="223.00" text-anchor="middle" class="t">0.5</text>
<text x="529.00" y="223.00" text-anchor="middle" class="t">1</text>
<polyline points="492.25,214.10 492.36,214.00 492.48,213.73 492.60,213.29 492.72,212.73 492.84,212.06 492.95,211.31 493.07,210.50 493.19,209.65 493.31,208.80 493.42,207.95 493.54,207.15 493.66,206.40 493.77,205.68 493.89,204.89 494.00,204.05 494.12,203.18 494.23,202.31 494.35,201.43 494.46,200.58 494.58,199.76 494.69,199.01 494.81,198.32 494.92,197.73 495.04,197.25 495.14,196.86 495.25,196.47 495.36,196.11 495.47,195.75 495.58,195.42 495.69,195.11 495.80,194.83 495.90,194.58 496.01,194.36 496.12,194.17 496.23,194.03 496.34,193.92 496.46,193.84 496.57,193.75 496.69,193.68 496.81,193.60 496.93,193.54 497.05,193.48 497.16,193.43 497.28,193.38 497.40,193.35" fill="none" stroke="#4a88d6" stroke-width="1.2" stroke-linejoin="round" stroke-linecap="round"/>
<polyline points="497.40,193.35 501.72,193.35" fill="none" stroke="#7da9e1" stroke-width="1.0" stroke-linejoin="round" stroke-linecap="butt"/>
<polyline points="495.14,214.06 495.25,213.93 495.36,213.73 495.47,213.46 495.58,213.14 495.69,212.78 495.80,212.38 495.90,211.95 496.01,211.50 496.12,211.05 496.23,210.59 496.34,210.15 496.45,209.65 496.57,209.09 496.68,208.48 496.80,207.82 496.91,207.13 497.03,206.40 497.14,205.65 497.26,204.88 497.37,204.11 497.49,203.34 497.60,202.57 497.71,201.83 497.79,201.32 497.86,200.77 497.94,200.19 498.01,199.59 498.09,198.98 498.16,198.39 498.24,197.81 498.31,197.28 498.38,196.80 498.46,196.38 498.53,196.04 498.61,195.80 498.72,195.51 498.84,195.24 498.95,194.99 499.07,194.76 499.18,194.55 499.30,194.37 499.41,194.20 499.53,194.06 499.64,193.94 499.75,193.84 499.87,193.76 499.98,193.72 500.20,193.65 500.42,193.59 500.63,193.54 500.85,193.49 501.07,193.44 501.29,193.41 501.50,193.37 501.72,193.35" fill="none" stroke="#60b34c" stroke-width="1.2" stroke-linejoin="round" stroke-linecap="round"/>
<polyline points="501.72,193.35 503.44,193.35" fill="none" stroke="#8dc87e" stroke-width="1.0" stroke-linejoin="round" stroke-linecap="butt"/>
<polyline points="491.80,214.10 498.61,214.10" fill="none" stroke="#f8aa75" stroke-width="1.15" stroke-linejoin="round" stroke-linecap="butt"/>
<polyline points="498.61,214.10 498.69,214.03 498.76,213.82 498.84,213.50 498.92,213.08 499.00,212.58 499.07,212.01 499.15,211.39 499.23,210.73 499.31,210.05 499.38,209.37 499.46,208.70 499.54,208.07 499.61,207.42 499.69,206.68 499.76,205.86 499.84,204.99 499.91,204.10 499.98,203.20 500.06,202.31 500.13,201.47 500.21,200.68 500.28,199.98 500.36,199.38 500.43,198.92 500.51,198.51 500.59,198.13 500.66,197.77 500.74,197.44 500.82,197.12 500.90,196.83 500.97,196.56 501.05,196.32 501.13,196.10 501.21,195.90 501.28,195.73 501.36,195.59 501.55,195.27 501.74,194.97 501.93,194.69 502.12,194.42 502.31,194.18 502.50,193.96 502.68,193.77 502.87,193.61 503.06,193.48 503.25,193.38 503.44,193.32" fill="none" stroke="#f5893f" stroke-width="1.2" stroke-linejoin="round" stroke-linecap="round"/>
<polyline points="503.44,193.32 517.84,193.32" fill="none" stroke="#f8aa75" stroke-width="1.0" stroke-linejoin="round" stroke-linecap="butt"/>
<line x1="83.30" y1="231.30" x2="136.80" y2="231.30" stroke="#e6e6e6" stroke-width="0.8"/>
<line x1="83.30" y1="241.65" x2="136.80" y2="241.65" stroke="#e6e6e6" stroke-width="0.8"/>
<line x1="83.30" y1="252.00" x2="136.80" y2="252.00" stroke="#e6e6e6" stroke-width="0.8"/>
<line x1="83.30" y1="231.30" x2="83.30" y2="252.00" stroke="#e6e6e6" stroke-width="0.8"/>
<line x1="101.90" y1="231.30" x2="101.90" y2="252.00" stroke="#e6e6e6" stroke-width="0.8"/>
<line x1="120.50" y1="231.30" x2="120.50" y2="252.00" stroke="#e6e6e6" stroke-width="0.8"/>
<text x="78.70" y="233.10" text-anchor="end" class="t">100</text>
<text x="78.70" y="243.45" text-anchor="end" class="t">50</text>
<text x="78.70" y="253.80" text-anchor="end" class="t">0</text>
<text x="83.30" y="260.90" text-anchor="middle" class="t">0</text>
<text x="101.90" y="260.90" text-anchor="middle" class="t">0.5</text>
<text x="120.50" y="260.90" text-anchor="middle" class="t">1</text>
<polyline points="83.30,252.00 83.54,251.74 83.79,251.48 84.03,251.24 84.28,251.00 84.52,250.75 84.77,250.51 85.01,250.25 85.26,249.99 85.50,249.71 85.75,249.42 85.99,249.11 86.24,248.77 86.47,248.43 86.69,248.04 86.92,247.63 87.14,247.19 87.37,246.72 87.60,246.24 87.82,245.75 88.05,245.25 88.28,244.75 88.50,244.26 88.73,243.77 88.95,243.31 89.18,242.83 89.41,242.35 89.64,241.86 89.87,241.36 90.10,240.87 90.33,240.37 90.56,239.89 90.79,239.42 91.02,238.96 91.25,238.52 91.48,238.10 91.71,237.72 91.94,237.35 92.17,236.99 92.40,236.63 92.62,236.29 92.85,235.96 93.08,235.64 93.31,235.33 93.54,235.03 93.77,234.75 94.00,234.48 94.23,234.23 94.46,233.99 94.68,233.77 94.89,233.56 95.11,233.34 95.33,233.14 95.55,232.93 95.76,232.74 95.98,232.56 96.20,232.40 96.41,232.25 96.63,232.12 96.85,232.01 97.06,231.92 97.30,231.84 97.54,231.76 97.77,231.69 98.01,231.61 98.24,231.55 98.48,231.49 98.71,231.43 98.95,231.39 99.18,231.35" fill="none" stroke="#4a88d6" stroke-width="1.3" stroke-linejoin="round" stroke-linecap="round"/>
<polyline points="99.18,231.35 104.04,231.35" fill="none" stroke="#7da9e1" stroke-width="1.0" stroke-linejoin="round" stroke-linecap="butt"/>
<polyline points="83.30,252.00 83.54,251.78 83.79,251.57 84.03,251.37 84.28,251.17 84.52,250.97 84.77,250.76 85.01,250.55 85.26,250.33 85.50,250.10 85.75,249.86 85.99,249.59 86.24,249.31 86.47,249.01 86.69,248.68 86.92,248.31 87.14,247.91 87.37,247.50 87.60,247.07 87.82,246.63 88.05,246.19 88.28,245.76 88.50,245.33 88.73,244.93 88.95,244.55 89.18,244.17 89.41,243.80 89.64,243.42 89.87,243.05 90.10,242.68 90.33,242.32 90.56,241.96 90.79,241.62 91.02,241.29 91.25,240.98 91.48,240.68 91.71,240.41 92.01,240.07 92.31,239.75 92.62,239.45 92.92,239.17 93.23,238.90 93.53,238.63 93.83,238.38 94.14,238.13 94.44,237.87 94.75,237.62 95.05,237.36 95.35,237.10 95.65,236.83 95.95,236.55 96.25,236.28 96.54,236.00 96.84,235.72 97.14,235.45 97.44,235.18 97.73,234.92 98.03,234.67 98.33,234.43 98.63,234.20 98.92,233.99 99.23,233.78 99.54,233.58 99.85,233.38 100.16,233.19 100.47,233.01 100.78,232.83 101.09,232.66 101.40,232.49 101.71,232.34 102.02,232.19 102.33,232.05 102.64,231.92 102.80,231.86 102.95,231.79 103.11,231.72 103.26,231.65 103.42,231.58 103.57,231.52 103.73,231.46 103.88,231.41 104.04,231.36" fill="none" stroke="#60b34c" stroke-width="1.3" stroke-linejoin="round" stroke-linecap="round"/>
<polyline points="104.04,231.36 105.90,231.36" fill="none" stroke="#8dc87e" stroke-width="1.0" stroke-linejoin="round" stroke-linecap="butt"/>
<polyline points="83.30,252.00 85.85,252.00" fill="none" stroke="#f8aa75" stroke-width="1.5" stroke-linejoin="round" stroke-linecap="butt"/>
<polyline points="85.85,251.94 86.17,251.93 86.49,251.92 86.81,251.91 87.13,251.90 87.51,251.86 87.89,251.79 88.28,251.70 88.66,251.58 89.04,251.44 89.42,251.28 89.80,251.11 90.18,250.92 90.56,250.73 90.94,250.53 91.33,250.33 91.71,250.14 92.01,249.98 92.31,249.81 92.62,249.62 92.92,249.43 93.23,249.23 93.53,249.01 93.83,248.78 94.14,248.54 94.44,248.29 94.75,248.02 95.05,247.74 95.35,247.45 95.59,247.20 95.82,246.94 96.06,246.65 96.30,246.35 96.53,246.02 96.77,245.68 97.00,245.33 97.24,244.95 97.47,244.56 97.71,244.16 97.94,243.74 98.18,243.31 98.40,242.87 98.61,242.37 98.83,241.83 99.05,241.25 99.27,240.65 99.48,240.04 99.70,239.42 99.92,238.81 100.13,238.22 100.35,237.66 100.57,237.14 100.78,236.68 101.02,236.21 101.25,235.73 101.48,235.25 101.71,234.78 101.95,234.32 102.18,233.88 102.41,233.48 102.64,233.10 102.88,232.78 103.11,232.50 103.34,232.28 103.57,232.13 103.81,232.01 104.04,231.90 104.27,231.80 104.50,231.71 104.74,231.62 104.97,231.54 105.20,231.47 105.43,231.41 105.67,231.36 105.90,231.33" fill="none" stroke="#f5893f" stroke-width="1.3" stroke-linejoin="round" stroke-linecap="round"/>
<polyline points="105.90,231.33 135.38,231.33" fill="none" stroke="#f8aa75" stroke-width="1.0" stroke-linejoin="round" stroke-linecap="butt"/>
<line x1="164.70" y1="233.00" x2="218.20" y2="233.00" stroke="#e6e6e6" stroke-width="0.8"/>
<line x1="164.70" y1="243.40" x2="218.20" y2="243.40" stroke="#e6e6e6" stroke-width="0.8"/>
<line x1="164.70" y1="253.80" x2="218.20" y2="253.80" stroke="#e6e6e6" stroke-width="0.8"/>
<line x1="164.70" y1="233.00" x2="164.70" y2="253.80" stroke="#e6e6e6" stroke-width="0.8"/>
<line x1="183.30" y1="233.00" x2="183.30" y2="253.80" stroke="#e6e6e6" stroke-width="0.8"/>
<line x1="201.90" y1="233.00" x2="201.90" y2="253.80" stroke="#e6e6e6" stroke-width="0.8"/>
<text x="160.10" y="234.80" text-anchor="end" class="t">100</text>
<text x="160.10" y="245.20" text-anchor="end" class="t">50</text>
<text x="160.10" y="255.60" text-anchor="end" class="t">0</text>
<text x="164.70" y="262.70" text-anchor="middle" class="t">0</text>
<text x="183.30" y="262.70" text-anchor="middle" class="t">0.5</text>
<text x="201.90" y="262.70" text-anchor="middle" class="t">1</text>
<polyline points="164.70,253.80 164.93,253.51 165.15,253.22 165.38,252.94 165.61,252.66 165.83,252.38 166.06,252.10 166.28,251.81 166.51,251.52 166.74,251.22 166.96,250.91 167.19,250.60 167.42,250.26 167.72,249.80 168.02,249.33 168.32,248.83 168.62,248.32 168.92,247.79 169.22,247.25 169.52,246.70 169.82,246.14 170.12,245.57 170.42,244.99 170.72,244.40 171.02,243.82 171.24,243.37 171.46,242.90 171.67,242.41 171.89,241.91 172.11,241.40 172.33,240.89 172.54,240.38 172.76,239.89 172.98,239.42 173.19,238.98 173.41,238.57 173.63,238.20 173.88,237.81 174.12,237.42 174.37,237.05 174.62,236.69 174.87,236.35 175.12,236.02 175.36,235.71 175.61,235.41 175.86,235.14 176.11,234.89 176.36,234.66 176.60,234.46 176.82,234.29 177.04,234.12 177.25,233.95 177.47,233.78 177.69,233.62 177.91,233.48 178.12,233.35 178.34,233.23 178.56,233.13 178.77,233.06" fill="none" stroke="#4a88d6" stroke-width="1.15" stroke-linejoin="round" stroke-linecap="round"/>
<polyline points="178.77,233.06 182.62,233.06" fill="none" stroke="#7da9e1" stroke-width="1.0" stroke-linejoin="round" stroke-linecap="butt"/>
<polyline points="164.70,253.80 165.00,253.55 165.31,253.30 165.61,253.06 165.92,252.83 166.22,252.59 166.52,252.35 166.83,252.11 167.13,251.85 167.43,251.59 167.74,251.31 168.04,251.00 168.35,250.68 168.65,250.33 168.95,249.93 169.25,249.51 169.55,249.05 169.85,248.58 170.15,248.08 170.45,247.58 170.75,247.07 171.05,246.55 171.35,246.04 171.65,245.55 171.95,245.06 172.25,244.59 172.54,244.11 172.84,243.62 173.13,243.13 173.43,242.63 173.72,242.14 174.02,241.66 174.31,241.18 174.60,240.72 174.90,240.27 175.19,239.85 175.49,239.45 175.80,239.04 176.11,238.64 176.42,238.25 176.73,237.86 177.04,237.49 177.35,237.13 177.66,236.78 177.97,236.44 178.28,236.12 178.59,235.82 178.90,235.55 179.21,235.29 179.52,235.04 179.83,234.78 180.14,234.52 180.45,234.26 180.76,234.01 181.07,233.77 181.38,233.56 181.69,233.37 182.00,233.22 182.31,233.10 182.62,233.03" fill="none" stroke="#60b34c" stroke-width="1.15" stroke-linejoin="round" stroke-linecap="round"/>
<polyline points="182.62,233.03 183.36,233.03" fill="none" stroke="#8dc87e" stroke-width="1.0" stroke-linejoin="round" stroke-linecap="butt"/>
<polyline points="164.70,253.80 167.68,253.80" fill="none" stroke="#f8aa75" stroke-width="1.4" stroke-linejoin="round" stroke-linecap="butt"/>
<polyline points="167.68,253.74 168.05,253.73 168.42,253.72 168.79,253.71 169.16,253.70 169.55,253.67 169.94,253.62 170.33,253.54 170.71,253.45 171.10,253.34 171.49,253.21 171.88,253.06 172.26,252.90 172.65,252.72 173.04,252.54 173.43,252.34 173.81,252.14 174.08,251.98 174.34,251.79 174.60,251.57 174.87,251.33 175.13,251.05 175.39,250.75 175.66,250.42 175.92,250.06 176.19,249.68 176.45,249.28 176.71,248.85 176.98,248.39 177.13,248.09 177.29,247.74 177.44,247.34 177.60,246.91 177.75,246.44 177.91,245.95 178.06,245.43 178.22,244.91 178.37,244.37 178.53,243.83 178.68,243.30 178.84,242.78 178.94,242.40 179.05,242.00 179.16,241.58 179.27,241.15 179.38,240.72 179.49,240.28 179.60,239.85 179.70,239.43 179.81,239.03 179.92,238.65 180.03,238.31 180.14,237.99 180.28,237.62 180.42,237.25 180.56,236.89 180.70,236.55 180.84,236.21 180.97,235.90 181.11,235.60 181.25,235.32 181.39,235.07 181.53,234.84 181.67,234.63 181.81,234.46 181.97,234.28 182.12,234.10 182.28,233.93 182.43,233.76 182.59,233.60 182.74,233.46 182.90,233.33 183.05,233.22 183.21,233.13 183.36,233.06" fill="none" stroke="#f5893f" stroke-width="1.15" stroke-linejoin="round" stroke-linecap="round"/>
<polyline points="183.36,233.06 198.18,233.06" fill="none" stroke="#f8aa75" stroke-width="1.0" stroke-linejoin="round" stroke-linecap="butt"/>
<line x1="246.60" y1="233.00" x2="300.10" y2="233.00" stroke="#e6e6e6" stroke-width="0.8"/>
<line x1="246.60" y1="243.40" x2="300.10" y2="243.40" stroke="#e6e6e6" stroke-width="0.8"/>
<line x1="246.60" y1="253.80" x2="300.10" y2="253.80" stroke="#e6e6e6" stroke-width="0.8"/>
<line x1="246.60" y1="233.00" x2="246.60" y2="253.80" stroke="#e6e6e6" stroke-width="0.8"/>
<line x1="265.20" y1="233.00" x2="265.20" y2="253.80" stroke="#e6e6e6" stroke-width="0.8"/>
<line x1="283.80" y1="233.00" x2="283.80" y2="253.80" stroke="#e6e6e6" stroke-width="0.8"/>
<text x="242.00" y="234.80" text-anchor="end" class="t">100</text>
<text x="242.00" y="245.20" text-anchor="end" class="t">50</text>
<text x="242.00" y="255.60" text-anchor="end" class="t">0</text>
<text x="246.60" y="262.70" text-anchor="middle" class="t">0</text>
<text x="265.20" y="262.70" text-anchor="middle" class="t">0.5</text>
<text x="283.80" y="262.70" text-anchor="middle" class="t">1</text>
<polyline points="246.60,253.80 246.84,253.46 247.07,253.12 247.31,252.78 247.54,252.45 247.78,252.12 248.01,251.78 248.25,251.45 248.48,251.10 248.72,250.75 248.96,250.39 249.19,250.02 249.43,249.64 249.66,249.25 249.89,248.85 250.12,248.44 250.34,248.02 250.57,247.59 250.80,247.15 251.03,246.71 251.26,246.26 251.49,245.81 251.72,245.35 251.95,244.90 252.18,244.44 252.40,243.99 252.63,243.51 252.85,243.03 253.07,242.53 253.30,242.03 253.52,241.53 253.74,241.04 253.97,240.56 254.19,240.09 254.41,239.64 254.64,239.22 254.86,238.82 255.09,238.43 255.32,238.04 255.56,237.66 255.79,237.29 256.02,236.93 256.25,236.58 256.49,236.24 256.72,235.92 256.95,235.63 257.18,235.35 257.42,235.10 257.65,234.87 257.88,234.66 258.11,234.44 258.35,234.22 258.58,234.01 258.81,233.81 259.04,233.62 259.28,233.45 259.51,233.30 259.74,233.17 259.97,233.08 260.21,233.02" fill="none" stroke="#4a88d6" stroke-width="1.15" stroke-linejoin="round" stroke-linecap="round"/>
<polyline points="260.21,233.02 265.42,233.02" fill="none" stroke="#7da9e1" stroke-width="1.0" stroke-linejoin="round" stroke-linecap="butt"/>
<polyline points="246.60,253.80 246.91,253.46 247.22,253.11 247.53,252.78 247.84,252.44 248.15,252.10 248.46,251.76 248.77,251.42 249.08,251.08 249.39,250.73 249.70,250.37 250.01,250.01 250.32,249.64 250.62,249.27 250.93,248.88 251.23,248.49 251.54,248.09 251.84,247.69 252.14,247.28 252.45,246.87 252.75,246.46 253.05,246.05 253.36,245.65 253.66,245.25 253.97,244.86 254.27,244.46 254.58,244.07 254.89,243.68 255.19,243.29 255.50,242.91 255.81,242.52 256.11,242.14 256.42,241.76 256.73,241.38 257.03,241.01 257.34,240.64 257.65,240.28 257.96,239.92 258.27,239.55 258.58,239.19 258.89,238.83 259.20,238.47 259.51,238.12 259.82,237.77 260.13,237.43 260.44,237.09 260.75,236.76 261.06,236.44 261.37,236.12 261.59,235.89 261.82,235.65 262.05,235.41 262.27,235.17 262.50,234.93 262.73,234.70 262.95,234.48 263.18,234.27 263.41,234.07 263.63,233.90 263.86,233.75 264.08,233.62 264.23,233.55 264.38,233.48 264.53,233.40 264.68,233.33 264.83,233.26 264.98,233.20 265.13,233.15 265.27,233.10 265.42,233.06" fill="none" stroke="#60b34c" stroke-width="1.15" stroke-linejoin="round" stroke-linecap="round"/>
<polyline points="265.42,233.06 266.57,233.06" fill="none" stroke="#8dc87e" stroke-width="1.0" stroke-linejoin="round" stroke-linecap="butt"/>
<polyline points="246.60,253.80 247.38,253.80" fill="none" stroke="#f8aa75" stroke-width="1.4" stroke-linejoin="round" stroke-linecap="butt"/>
<polyline points="247.38,253.74 247.76,253.71 248.15,253.68 248.54,253.66 248.92,253.63 249.31,253.60 249.70,253.57 250.09,253.53 250.47,253.49 250.86,253.44 251.25,253.38 251.59,253.31 251.93,253.21 252.27,253.08 252.61,252.93 252.95,252.75 253.30,252.55 253.64,252.33 253.98,252.10 254.32,251.86 254.66,251.61 255.00,251.35 255.34,251.10 255.59,250.90 255.84,250.69 256.09,250.47 256.33,250.23 256.58,249.98 256.83,249.72 257.08,249.43 257.33,249.13 257.57,248.82 257.82,248.49 258.07,248.14 258.32,247.77 258.49,247.49 258.66,247.19 258.83,246.86 259.00,246.51 259.17,246.14 259.34,245.75 259.51,245.35 259.68,244.93 259.85,244.51 260.02,244.07 260.19,243.63 260.36,243.19 260.50,242.82 260.64,242.41 260.77,241.98 260.91,241.54 261.05,241.08 261.18,240.62 261.32,240.16 261.46,239.71 261.59,239.29 261.73,238.89 261.86,238.52 262.00,238.20 262.17,237.82 262.35,237.45 262.52,237.09 262.70,236.74 262.87,236.41 263.04,236.10 263.22,235.80 263.39,235.52 263.56,235.27 263.74,235.04 263.91,234.84 264.08,234.66 264.31,234.46 264.54,234.25 264.76,234.05 264.99,233.86 265.22,233.68 265.44,233.52 265.67,233.37 265.89,233.25 266.12,233.14 266.35,233.07 266.57,233.02" fill="none" stroke="#f5893f" stroke-width="1.15" stroke-linejoin="round" stroke-linecap="round"/>
<polyline points="266.57,233.02 280.08,233.02" fill="none" stroke="#f8aa75" stroke-width="1.0" stroke-linejoin="round" stroke-linecap="butt"/>
<line x1="328.40" y1="233.00" x2="381.90" y2="233.00" stroke="#e6e6e6" stroke-width="0.8"/>
<line x1="328.40" y1="243.40" x2="381.90" y2="243.40" stroke="#e6e6e6" stroke-width="0.8"/>
<line x1="328.40" y1="253.80" x2="381.90" y2="253.80" stroke="#e6e6e6" stroke-width="0.8"/>
<line x1="328.40" y1="233.00" x2="328.40" y2="253.80" stroke="#e6e6e6" stroke-width="0.8"/>
<line x1="347.00" y1="233.00" x2="347.00" y2="253.80" stroke="#e6e6e6" stroke-width="0.8"/>
<line x1="365.60" y1="233.00" x2="365.60" y2="253.80" stroke="#e6e6e6" stroke-width="0.8"/>
<text x="323.80" y="234.80" text-anchor="end" class="t">100</text>
<text x="323.80" y="245.20" text-anchor="end" class="t">50</text>
<text x="323.80" y="255.60" text-anchor="end" class="t">0</text>
<text x="328.40" y="262.70" text-anchor="middle" class="t">0</text>
<text x="347.00" y="262.70" text-anchor="middle" class="t">0.5</text>
<text x="365.60" y="262.70" text-anchor="middle" class="t">1</text>
<polyline points="328.40,253.80 328.64,253.46 328.87,253.12 329.11,252.78 329.34,252.45 329.58,252.12 329.81,251.78 330.05,251.45 330.28,251.10 330.52,250.75 330.76,250.39 330.99,250.02 331.23,249.64 331.46,249.25 331.69,248.85 331.92,248.44 332.14,248.02 332.37,247.59 332.60,247.15 332.83,246.71 333.06,246.26 333.29,245.81 333.52,245.35 333.75,244.90 333.98,244.44 334.20,243.99 334.43,243.51 334.65,243.03 334.87,242.53 335.10,242.03 335.32,241.53 335.54,241.04 335.77,240.56 335.99,240.09 336.21,239.64 336.44,239.22 336.66,238.82 336.89,238.43 337.12,238.04 337.36,237.66 337.59,237.29 337.82,236.93 338.05,236.58 338.29,236.24 338.52,235.92 338.75,235.63 338.98,235.35 339.22,235.10 339.45,234.87 339.68,234.66 339.91,234.44 340.15,234.22 340.38,234.01 340.61,233.81 340.84,233.62 341.08,233.45 341.31,233.30 341.54,233.17 341.77,233.08 342.01,233.02" fill="none" stroke="#4a88d6" stroke-width="1.15" stroke-linejoin="round" stroke-linecap="round"/>
<polyline points="342.01,233.02 347.22,233.02" fill="none" stroke="#7da9e1" stroke-width="1.0" stroke-linejoin="round" stroke-linecap="butt"/>
<polyline points="328.40,253.80 328.71,253.46 329.02,253.11 329.33,252.78 329.64,252.44 329.95,252.10 330.26,251.76 330.57,251.42 330.88,251.08 331.19,250.73 331.50,250.37 331.81,250.01 332.12,249.64 332.42,249.27 332.73,248.88 333.03,248.49 333.34,248.09 333.64,247.69 333.94,247.28 334.25,246.87 334.55,246.46 334.85,246.05 335.16,245.65 335.46,245.25 335.77,244.86 336.07,244.46 336.38,244.07 336.69,243.68 336.99,243.29 337.30,242.91 337.61,242.52 337.91,242.14 338.22,241.76 338.53,241.38 338.83,241.01 339.14,240.64 339.45,240.28 339.76,239.92 340.07,239.55 340.38,239.19 340.69,238.83 341.00,238.47 341.31,238.12 341.62,237.77 341.93,237.43 342.24,237.09 342.55,236.76 342.86,236.44 343.17,236.12 343.39,235.89 343.62,235.65 343.85,235.41 344.07,235.17 344.30,234.93 344.53,234.70 344.75,234.48 344.98,234.27 345.21,234.07 345.43,233.90 345.66,233.75 345.88,233.62 346.03,233.55 346.18,233.48 346.33,233.40 346.48,233.33 346.63,233.26 346.78,233.20 346.93,233.15 347.07,233.10 347.22,233.06" fill="none" stroke="#60b34c" stroke-width="1.15" stroke-linejoin="round" stroke-linecap="round"/>
<polyline points="347.22,233.06 348.37,233.06" fill="none" stroke="#8dc87e" stroke-width="1.0" stroke-linejoin="round" stroke-linecap="butt"/>
<polyline points="328.40,253.80 329.17,253.80" fill="none" stroke="#f8aa75" stroke-width="1.4" stroke-linejoin="round" stroke-linecap="butt"/>
<polyline points="329.17,253.74 329.56,253.71 329.95,253.68 330.34,253.66 330.72,253.63 331.11,253.60 331.50,253.57 331.89,253.53 332.27,253.49 332.66,253.44 333.05,253.38 333.39,253.31 333.73,253.21 334.07,253.08 334.41,252.93 334.75,252.75 335.10,252.55 335.44,252.33 335.78,252.10 336.12,251.86 336.46,251.61 336.80,251.35 337.14,251.10 337.39,250.90 337.64,250.69 337.89,250.47 338.13,250.23 338.38,249.98 338.63,249.72 338.88,249.43 339.13,249.13 339.37,248.82 339.62,248.49 339.87,248.14 340.12,247.77 340.29,247.49 340.46,247.19 340.63,246.86 340.80,246.51 340.97,246.14 341.14,245.75 341.31,245.35 341.48,244.93 341.65,244.51 341.82,244.07 341.99,243.63 342.16,243.19 342.30,242.82 342.44,242.41 342.57,241.98 342.71,241.54 342.85,241.08 342.98,240.62 343.12,240.16 343.26,239.71 343.39,239.29 343.53,238.89 343.66,238.52 343.80,238.20 343.97,237.82 344.15,237.45 344.32,237.09 344.50,236.74 344.67,236.41 344.84,236.10 345.02,235.80 345.19,235.52 345.36,235.27 345.54,235.04 345.71,234.84 345.88,234.66 346.11,234.46 346.34,234.25 346.56,234.05 346.79,233.86 347.02,233.68 347.24,233.52 347.47,233.37 347.69,233.25 347.92,233.14 348.15,233.07 348.37,233.02" fill="none" stroke="#f5893f" stroke-width="1.15" stroke-linejoin="round" stroke-linecap="round"/>
<polyline points="348.37,233.02 361.88,233.02" fill="none" stroke="#f8aa75" stroke-width="1.0" stroke-linejoin="round" stroke-linecap="butt"/>
<line x1="410.10" y1="233.00" x2="463.60" y2="233.00" stroke="#e6e6e6" stroke-width="0.8"/>
<line x1="410.10" y1="243.40" x2="463.60" y2="243.40" stroke="#e6e6e6" stroke-width="0.8"/>
<line x1="410.10" y1="253.80" x2="463.60" y2="253.80" stroke="#e6e6e6" stroke-width="0.8"/>
<line x1="410.10" y1="233.00" x2="410.10" y2="253.80" stroke="#e6e6e6" stroke-width="0.8"/>
<line x1="428.70" y1="233.00" x2="428.70" y2="253.80" stroke="#e6e6e6" stroke-width="0.8"/>
<line x1="447.30" y1="233.00" x2="447.30" y2="253.80" stroke="#e6e6e6" stroke-width="0.8"/>
<text x="405.50" y="234.80" text-anchor="end" class="t">100</text>
<text x="405.50" y="245.20" text-anchor="end" class="t">50</text>
<text x="405.50" y="255.60" text-anchor="end" class="t">0</text>
<text x="410.10" y="262.70" text-anchor="middle" class="t">0</text>
<text x="428.70" y="262.70" text-anchor="middle" class="t">0.5</text>
<text x="447.30" y="262.70" text-anchor="middle" class="t">1</text>
<polyline points="410.10,253.80 410.34,253.42 410.59,253.05 410.83,252.68 411.08,252.32 411.32,251.95 411.57,251.59 411.81,251.21 412.06,250.84 412.30,250.45 412.55,250.05 412.79,249.65 413.04,249.22 413.34,248.68 413.65,248.12 413.95,247.54 414.25,246.94 414.56,246.33 414.86,245.71 415.17,245.07 415.47,244.43 415.77,243.78 416.08,243.12 416.38,242.46 416.68,241.80 416.84,241.46 416.99,241.09 417.14,240.72 417.29,240.34 417.44,239.95 417.60,239.57 417.75,239.19 417.90,238.82 418.05,238.47 418.20,238.15 418.36,237.84 418.51,237.58 418.70,237.26 418.89,236.96 419.08,236.67 419.28,236.38 419.47,236.12 419.66,235.86 419.85,235.62 420.04,235.39 420.24,235.18 420.43,234.99 420.62,234.82 420.81,234.66 421.08,234.46 421.35,234.26 421.61,234.06 421.88,233.88 422.15,233.70 422.41,233.53 422.68,233.38 422.95,233.25 423.21,233.15 423.48,233.07 423.75,233.02" fill="none" stroke="#4a88d6" stroke-width="1.15" stroke-linejoin="round" stroke-linecap="round"/>
<polyline points="423.75,233.02 427.49,233.02" fill="none" stroke="#7da9e1" stroke-width="1.0" stroke-linejoin="round" stroke-linecap="butt"/>
<polyline points="410.10,253.80 410.42,253.42 410.74,253.05 411.06,252.68 411.38,252.32 411.70,251.96 412.02,251.59 412.34,251.22 412.65,250.84 412.97,250.45 413.29,250.06 413.61,249.65 413.93,249.22 414.23,248.81 414.53,248.37 414.83,247.92 415.13,247.45 415.44,246.98 415.74,246.49 416.04,246.00 416.34,245.52 416.64,245.03 416.94,244.55 417.24,244.07 417.54,243.61 417.77,243.25 418.00,242.88 418.24,242.51 418.47,242.14 418.70,241.76 418.94,241.39 419.17,241.03 419.40,240.68 419.63,240.35 419.87,240.03 420.10,239.73 420.33,239.45 420.64,239.11 420.94,238.80 421.25,238.51 421.56,238.23 421.86,237.96 422.17,237.70 422.48,237.45 422.79,237.20 423.09,236.94 423.40,236.68 423.71,236.41 424.01,236.12 424.25,235.88 424.48,235.61 424.72,235.32 424.96,235.02 425.19,234.72 425.43,234.42 425.66,234.14 425.90,233.88 426.13,233.65 426.37,233.45 426.60,233.30 426.84,233.21 426.93,233.18 427.03,233.16 427.12,233.13 427.21,233.11 427.31,233.08 427.40,233.06 427.49,233.05" fill="none" stroke="#60b34c" stroke-width="1.15" stroke-linejoin="round" stroke-linecap="round"/>
<polyline points="427.49,233.05 428.30,233.05" fill="none" stroke="#8dc87e" stroke-width="1.0" stroke-linejoin="round" stroke-linecap="butt"/>
<polyline points="410.10,253.80 412.06,253.80" fill="none" stroke="#f8aa75" stroke-width="1.4" stroke-linejoin="round" stroke-linecap="butt"/>
<polyline points="412.06,253.74 412.30,253.73 412.55,253.72 412.79,253.71 413.04,253.70 413.34,253.67 413.65,253.63 413.95,253.57 414.25,253.50 414.56,253.42 414.86,253.32 415.17,253.21 415.47,253.10 415.77,252.97 416.08,252.84 416.38,252.70 416.68,252.55 416.99,252.38 417.29,252.15 417.60,251.89 417.90,251.58 418.20,251.24 418.51,250.88 418.81,250.49 419.11,250.08 419.42,249.67 419.72,249.24 420.03,248.82 420.33,248.39 420.56,248.07 420.80,247.74 421.03,247.39 421.26,247.04 421.49,246.68 421.73,246.29 421.96,245.90 422.19,245.48 422.42,245.05 422.66,244.59 422.89,244.11 423.12,243.61 423.28,243.24 423.43,242.83 423.59,242.39 423.74,241.92 423.90,241.43 424.05,240.92 424.21,240.41 424.36,239.90 424.52,239.40 424.67,238.91 424.83,238.43 424.98,237.99 425.09,237.68 425.20,237.36 425.31,237.04 425.41,236.71 425.52,236.38 425.63,236.07 425.74,235.76 425.85,235.48 425.96,235.23 426.06,235.00 426.17,234.81 426.28,234.66 426.48,234.44 426.69,234.22 426.89,234.01 427.09,233.82 427.29,233.64 427.49,233.48 427.69,233.34 427.89,233.23 428.10,233.13 428.30,233.06" fill="none" stroke="#f5893f" stroke-width="1.15" stroke-linejoin="round" stroke-linecap="round"/>
<polyline points="428.30,233.06 436.14,233.06" fill="none" stroke="#f8aa75" stroke-width="1.0" stroke-linejoin="round" stroke-linecap="butt"/>
<line x1="491.80" y1="233.00" x2="545.30" y2="233.00" stroke="#e6e6e6" stroke-width="0.8"/>
<line x1="491.80" y1="243.40" x2="545.30" y2="243.40" stroke="#e6e6e6" stroke-width="0.8"/>
<line x1="491.80" y1="253.80" x2="545.30" y2="253.80" stroke="#e6e6e6" stroke-width="0.8"/>
<line x1="491.80" y1="233.00" x2="491.80" y2="253.80" stroke="#e6e6e6" stroke-width="0.8"/>
<line x1="510.40" y1="233.00" x2="510.40" y2="253.80" stroke="#e6e6e6" stroke-width="0.8"/>
<line x1="529.00" y1="233.00" x2="529.00" y2="253.80" stroke="#e6e6e6" stroke-width="0.8"/>
<text x="487.20" y="234.80" text-anchor="end" class="t">100</text>
<text x="487.20" y="245.20" text-anchor="end" class="t">50</text>
<text x="487.20" y="255.60" text-anchor="end" class="t">0</text>
<text x="491.80" y="262.70" text-anchor="middle" class="t">0</text>
<text x="510.40" y="262.70" text-anchor="middle" class="t">0.5</text>
<text x="529.00" y="262.70" text-anchor="middle" class="t">1</text>
<polyline points="491.80,253.80 492.07,253.42 492.33,253.06 492.60,252.69 492.87,252.34 493.13,251.98 493.40,251.62 493.67,251.25 493.93,250.87 494.20,250.48 494.47,250.08 494.73,249.66 495.00,249.22 495.23,248.82 495.46,248.40 495.69,247.96 495.92,247.50 496.15,247.03 496.38,246.55 496.61,246.06 496.83,245.57 497.06,245.07 497.29,244.58 497.52,244.09 497.75,243.61 497.98,243.12 498.21,242.62 498.44,242.10 498.67,241.58 498.90,241.06 499.13,240.54 499.36,240.03 499.59,239.54 499.82,239.06 500.05,238.60 500.28,238.18 500.50,237.78 500.74,237.40 500.98,237.01 501.21,236.63 501.45,236.26 501.68,235.90 501.92,235.55 502.15,235.23 502.39,234.92 502.63,234.65 502.86,234.41 503.10,234.20 503.33,234.04 503.55,233.91 503.77,233.78 503.98,233.65 504.20,233.54 504.42,233.42 504.63,233.32 504.85,233.23 505.07,233.15 505.29,233.09 505.50,233.04" fill="none" stroke="#4a88d6" stroke-width="1.15" stroke-linejoin="round" stroke-linecap="round"/>
<polyline points="505.50,233.04 508.87,233.04" fill="none" stroke="#7da9e1" stroke-width="1.0" stroke-linejoin="round" stroke-linecap="butt"/>
<polyline points="491.80,253.80 492.10,253.47 492.41,253.14 492.71,252.81 493.02,252.49 493.32,252.16 493.62,251.84 493.93,251.51 494.23,251.18 494.53,250.83 494.84,250.48 495.14,250.12 495.45,249.74 495.72,249.39 495.99,249.03 496.25,248.65 496.52,248.26 496.79,247.86 497.06,247.45 497.33,247.04 497.60,246.64 497.87,246.23 498.14,245.83 498.41,245.44 498.68,245.06 498.99,244.65 499.29,244.24 499.59,243.83 499.90,243.43 500.20,243.03 500.50,242.64 500.81,242.24 501.11,241.85 501.42,241.46 501.72,241.07 502.02,240.67 502.33,240.28 502.60,239.93 502.87,239.57 503.14,239.22 503.41,238.86 503.68,238.50 503.95,238.15 504.22,237.79 504.49,237.45 504.75,237.10 505.02,236.77 505.29,236.44 505.56,236.12 505.79,235.85 506.02,235.56 506.24,235.26 506.47,234.96 506.70,234.66 506.92,234.37 507.15,234.10 507.37,233.85 507.60,233.63 507.83,233.45 508.05,233.30 508.28,233.21 508.36,233.18 508.45,233.16 508.53,233.13 508.61,233.11 508.70,233.08 508.78,233.06 508.87,233.05" fill="none" stroke="#60b34c" stroke-width="1.15" stroke-linejoin="round" stroke-linecap="round"/>
<polyline points="508.87,233.05 509.50,233.05" fill="none" stroke="#8dc87e" stroke-width="1.0" stroke-linejoin="round" stroke-linecap="butt"/>
<polyline points="491.80,253.80 492.48,253.80" fill="none" stroke="#f8aa75" stroke-width="1.4" stroke-linejoin="round" stroke-linecap="butt"/>
<polyline points="492.48,253.75 492.82,253.73 493.16,253.71 493.50,253.69 493.85,253.67 494.19,253.65 494.53,253.63 494.87,253.60 495.21,253.57 495.55,253.53 495.89,253.49 496.20,253.43 496.51,253.35 496.82,253.24 497.13,253.12 497.44,252.97 497.75,252.81 498.06,252.63 498.37,252.44 498.68,252.24 498.99,252.04 499.30,251.83 499.61,251.62 499.88,251.43 500.14,251.23 500.40,251.02 500.67,250.79 500.93,250.54 501.19,250.29 501.46,250.01 501.72,249.72 501.98,249.41 502.25,249.09 502.51,248.75 502.77,248.39 502.97,248.11 503.16,247.81 503.35,247.49 503.54,247.15 503.74,246.78 503.93,246.39 504.12,245.98 504.31,245.55 504.50,245.10 504.70,244.62 504.89,244.13 505.08,243.61 505.20,243.27 505.31,242.89 505.42,242.47 505.54,242.03 505.65,241.56 505.77,241.09 505.88,240.61 506.00,240.13 506.11,239.66 506.23,239.22 506.34,238.80 506.46,238.41 506.57,238.05 506.68,237.68 506.79,237.31 506.90,236.94 507.01,236.58 507.13,236.23 507.24,235.90 507.35,235.59 507.46,235.31 507.57,235.06 507.68,234.84 507.80,234.66 507.95,234.45 508.11,234.24 508.26,234.04 508.42,233.85 508.57,233.67 508.73,233.51 508.88,233.36 509.04,233.24 509.19,233.14 509.35,233.06 509.50,233.02" fill="none" stroke="#f5893f" stroke-width="1.15" stroke-linejoin="round" stroke-linecap="round"/>
<polyline points="509.50,233.02 517.84,233.02" fill="none" stroke="#f8aa75" stroke-width="1.0" stroke-linejoin="round" stroke-linecap="butt"/>
<line x1="83.30" y1="272.60" x2="136.80" y2="272.60" stroke="#e6e6e6" stroke-width="0.8"/>
<line x1="83.30" y1="282.95" x2="136.80" y2="282.95" stroke="#e6e6e6" stroke-width="0.8"/>
<line x1="83.30" y1="293.30" x2="136.80" y2="293.30" stroke="#e6e6e6" stroke-width="0.8"/>
<line x1="83.30" y1="272.60" x2="83.30" y2="293.30" stroke="#e6e6e6" stroke-width="0.8"/>
<line x1="101.90" y1="272.60" x2="101.90" y2="293.30" stroke="#e6e6e6" stroke-width="0.8"/>
<line x1="120.50" y1="272.60" x2="120.50" y2="293.30" stroke="#e6e6e6" stroke-width="0.8"/>
<text x="78.70" y="274.40" text-anchor="end" class="t">100</text>
<text x="78.70" y="284.75" text-anchor="end" class="t">50</text>
<text x="78.70" y="295.10" text-anchor="end" class="t">0</text>
<text x="83.30" y="302.20" text-anchor="middle" class="t">0</text>
<text x="101.90" y="302.20" text-anchor="middle" class="t">0.5</text>
<text x="120.50" y="302.20" text-anchor="middle" class="t">1</text>
<polyline points="88.69,293.30 91.11,272.60" fill="none" stroke="#4a88d6" stroke-width="1.25" stroke-linejoin="round" stroke-linecap="round"/>
<polyline points="91.11,272.60 93.72,272.60" fill="none" stroke="#7da9e1" stroke-width="1.0" stroke-linejoin="round" stroke-linecap="butt"/>
<polyline points="91.48,293.30 93.72,272.60" fill="none" stroke="#60b34c" stroke-width="1.25" stroke-linejoin="round" stroke-linecap="round"/>
<polyline points="93.72,272.60 100.04,272.60" fill="none" stroke="#8dc87e" stroke-width="1.0" stroke-linejoin="round" stroke-linecap="butt"/>
<polyline points="83.30,293.30 96.69,293.30" fill="none" stroke="#f8aa75" stroke-width="1.5" stroke-linejoin="round" stroke-linecap="butt"/>
<polyline points="96.69,293.30 100.04,272.60" fill="none" stroke="#f5893f" stroke-width="1.25" stroke-linejoin="round" stroke-linecap="round"/>
<polyline points="100.04,272.60 135.38,272.60" fill="none" stroke="#f8aa75" stroke-width="1.0" stroke-linejoin="round" stroke-linecap="butt"/>
<line x1="162.50" y1="272.60" x2="216.00" y2="272.60" stroke="#e6e6e6" stroke-width="0.8"/>
<line x1="162.50" y1="282.95" x2="216.00" y2="282.95" stroke="#e6e6e6" stroke-width="0.8"/>
<line x1="162.50" y1="293.30" x2="216.00" y2="293.30" stroke="#e6e6e6" stroke-width="0.8"/>
<line x1="162.50" y1="272.60" x2="162.50" y2="293.30" stroke="#e6e6e6" stroke-width="0.8"/>
<line x1="181.10" y1="272.60" x2="181.10" y2="293.30" stroke="#e6e6e6" stroke-width="0.8"/>
<line x1="199.70" y1="272.60" x2="199.70" y2="293.30" stroke="#e6e6e6" stroke-width="0.8"/>
<text x="157.90" y="274.40" text-anchor="end" class="t">100</text>
<text x="157.90" y="284.75" text-anchor="end" class="t">50</text>
<text x="157.90" y="295.10" text-anchor="end" class="t">0</text>
<text x="162.50" y="302.20" text-anchor="middle" class="t">0</text>
<text x="181.10" y="302.20" text-anchor="middle" class="t">0.5</text>
<text x="199.70" y="302.20" text-anchor="middle" class="t">1</text>
<polyline points="167.34,293.30 169.57,272.60" fill="none" stroke="#4a88d6" stroke-width="1.15" stroke-linejoin="round" stroke-linecap="round"/>
<polyline points="169.57,272.60 174.03,272.60" fill="none" stroke="#7da9e1" stroke-width="1.0" stroke-linejoin="round" stroke-linecap="butt"/>
<polyline points="171.43,293.30 174.03,272.60" fill="none" stroke="#60b34c" stroke-width="1.15" stroke-linejoin="round" stroke-linecap="round"/>
<polyline points="174.03,272.60 176.26,272.60" fill="none" stroke="#8dc87e" stroke-width="1.0" stroke-linejoin="round" stroke-linecap="butt"/>
<polyline points="162.50,293.30 173.66,293.30" fill="none" stroke="#f8aa75" stroke-width="1.4" stroke-linejoin="round" stroke-linecap="butt"/>
<polyline points="173.66,293.30 176.26,272.60" fill="none" stroke="#f5893f" stroke-width="1.15" stroke-linejoin="round" stroke-linecap="round"/>
<polyline points="176.26,272.60 195.98,272.60" fill="none" stroke="#f8aa75" stroke-width="1.0" stroke-linejoin="round" stroke-linecap="butt"/>
<line x1="244.70" y1="272.60" x2="298.20" y2="272.60" stroke="#e6e6e6" stroke-width="0.8"/>
<line x1="244.70" y1="282.95" x2="298.20" y2="282.95" stroke="#e6e6e6" stroke-width="0.8"/>
<line x1="244.70" y1="293.30" x2="298.20" y2="293.30" stroke="#e6e6e6" stroke-width="0.8"/>
<line x1="244.70" y1="272.60" x2="244.70" y2="293.30" stroke="#e6e6e6" stroke-width="0.8"/>
<line x1="263.30" y1="272.60" x2="263.30" y2="293.30" stroke="#e6e6e6" stroke-width="0.8"/>
<line x1="281.90" y1="272.60" x2="281.90" y2="293.30" stroke="#e6e6e6" stroke-width="0.8"/>
<text x="240.10" y="274.40" text-anchor="end" class="t">100</text>
<text x="240.10" y="284.75" text-anchor="end" class="t">50</text>
<text x="240.10" y="295.10" text-anchor="end" class="t">0</text>
<text x="244.70" y="302.20" text-anchor="middle" class="t">0</text>
<text x="263.30" y="302.20" text-anchor="middle" class="t">0.5</text>
<text x="281.90" y="302.20" text-anchor="middle" class="t">1</text>
<polyline points="249.54,293.30 251.77,272.60" fill="none" stroke="#4a88d6" stroke-width="1.15" stroke-linejoin="round" stroke-linecap="round"/>
<polyline points="251.77,272.60 255.86,272.60" fill="none" stroke="#7da9e1" stroke-width="1.0" stroke-linejoin="round" stroke-linecap="butt"/>
<polyline points="253.63,293.30 255.86,272.60" fill="none" stroke="#60b34c" stroke-width="1.15" stroke-linejoin="round" stroke-linecap="round"/>
<polyline points="255.86,272.60 258.46,272.60" fill="none" stroke="#8dc87e" stroke-width="1.0" stroke-linejoin="round" stroke-linecap="butt"/>
<polyline points="244.70,293.30 256.23,293.30" fill="none" stroke="#f8aa75" stroke-width="1.4" stroke-linejoin="round" stroke-linecap="butt"/>
<polyline points="256.23,293.30 258.46,272.60" fill="none" stroke="#f5893f" stroke-width="1.15" stroke-linejoin="round" stroke-linecap="round"/>
<polyline points="258.46,272.60 278.18,272.60" fill="none" stroke="#f8aa75" stroke-width="1.0" stroke-linejoin="round" stroke-linecap="butt"/>
<line x1="326.90" y1="272.60" x2="380.40" y2="272.60" stroke="#e6e6e6" stroke-width="0.8"/>
<line x1="326.90" y1="282.95" x2="380.40" y2="282.95" stroke="#e6e6e6" stroke-width="0.8"/>
<line x1="326.90" y1="293.30" x2="380.40" y2="293.30" stroke="#e6e6e6" stroke-width="0.8"/>
<line x1="326.90" y1="272.60" x2="326.90" y2="293.30" stroke="#e6e6e6" stroke-width="0.8"/>
<line x1="345.50" y1="272.60" x2="345.50" y2="293.30" stroke="#e6e6e6" stroke-width="0.8"/>
<line x1="364.10" y1="272.60" x2="364.10" y2="293.30" stroke="#e6e6e6" stroke-width="0.8"/>
<text x="322.30" y="274.40" text-anchor="end" class="t">100</text>
<text x="322.30" y="284.75" text-anchor="end" class="t">50</text>
<text x="322.30" y="295.10" text-anchor="end" class="t">0</text>
<text x="326.90" y="302.20" text-anchor="middle" class="t">0</text>
<text x="345.50" y="302.20" text-anchor="middle" class="t">0.5</text>
<text x="364.10" y="302.20" text-anchor="middle" class="t">1</text>
<polyline points="331.74,293.30 333.97,272.60" fill="none" stroke="#4a88d6" stroke-width="1.15" stroke-linejoin="round" stroke-linecap="round"/>
<polyline points="333.97,272.60 338.06,272.60" fill="none" stroke="#7da9e1" stroke-width="1.0" stroke-linejoin="round" stroke-linecap="butt"/>
<polyline points="335.83,293.30 338.06,272.60" fill="none" stroke="#60b34c" stroke-width="1.15" stroke-linejoin="round" stroke-linecap="round"/>
<polyline points="338.06,272.60 340.66,272.60" fill="none" stroke="#8dc87e" stroke-width="1.0" stroke-linejoin="round" stroke-linecap="butt"/>
<polyline points="326.90,293.30 338.43,293.30" fill="none" stroke="#f8aa75" stroke-width="1.4" stroke-linejoin="round" stroke-linecap="butt"/>
<polyline points="338.43,293.30 340.66,272.60" fill="none" stroke="#f5893f" stroke-width="1.15" stroke-linejoin="round" stroke-linecap="round"/>
<polyline points="340.66,272.60 360.38,272.60" fill="none" stroke="#f8aa75" stroke-width="1.0" stroke-linejoin="round" stroke-linecap="butt"/>
<line x1="409.50" y1="272.60" x2="463.00" y2="272.60" stroke="#e6e6e6" stroke-width="0.8"/>
<line x1="409.50" y1="282.95" x2="463.00" y2="282.95" stroke="#e6e6e6" stroke-width="0.8"/>
<line x1="409.50" y1="293.30" x2="463.00" y2="293.30" stroke="#e6e6e6" stroke-width="0.8"/>
<line x1="409.50" y1="272.60" x2="409.50" y2="293.30" stroke="#e6e6e6" stroke-width="0.8"/>
<line x1="428.10" y1="272.60" x2="428.10" y2="293.30" stroke="#e6e6e6" stroke-width="0.8"/>
<line x1="446.70" y1="272.60" x2="446.70" y2="293.30" stroke="#e6e6e6" stroke-width="0.8"/>
<text x="404.90" y="274.40" text-anchor="end" class="t">100</text>
<text x="404.90" y="284.75" text-anchor="end" class="t">50</text>
<text x="404.90" y="295.10" text-anchor="end" class="t">0</text>
<text x="409.50" y="302.20" text-anchor="middle" class="t">0</text>
<text x="428.10" y="302.20" text-anchor="middle" class="t">0.5</text>
<text x="446.70" y="302.20" text-anchor="middle" class="t">1</text>
<polyline points="414.15,293.30 416.20,272.60" fill="none" stroke="#4a88d6" stroke-width="1.15" stroke-linejoin="round" stroke-linecap="round"/>
<polyline points="416.20,272.60 419.92,272.60" fill="none" stroke="#7da9e1" stroke-width="1.0" stroke-linejoin="round" stroke-linecap="butt"/>
<polyline points="418.06,293.30 419.92,272.60" fill="none" stroke="#60b34c" stroke-width="1.15" stroke-linejoin="round" stroke-linecap="round"/>
<polyline points="419.92,272.60 423.64,272.60" fill="none" stroke="#8dc87e" stroke-width="1.0" stroke-linejoin="round" stroke-linecap="butt"/>
<polyline points="409.50,293.30 421.78,293.30" fill="none" stroke="#f8aa75" stroke-width="1.4" stroke-linejoin="round" stroke-linecap="butt"/>
<polyline points="421.78,293.30 423.64,272.60" fill="none" stroke="#f5893f" stroke-width="1.15" stroke-linejoin="round" stroke-linecap="round"/>
<polyline points="423.64,272.60 435.54,272.60" fill="none" stroke="#f8aa75" stroke-width="1.0" stroke-linejoin="round" stroke-linecap="butt"/>
<line x1="491.80" y1="272.60" x2="545.30" y2="272.60" stroke="#e6e6e6" stroke-width="0.8"/>
<line x1="491.80" y1="282.95" x2="545.30" y2="282.95" stroke="#e6e6e6" stroke-width="0.8"/>
<line x1="491.80" y1="293.30" x2="545.30" y2="293.30" stroke="#e6e6e6" stroke-width="0.8"/>
<line x1="491.80" y1="272.60" x2="491.80" y2="293.30" stroke="#e6e6e6" stroke-width="0.8"/>
<line x1="510.40" y1="272.60" x2="510.40" y2="293.30" stroke="#e6e6e6" stroke-width="0.8"/>
<line x1="529.00" y1="272.60" x2="529.00" y2="293.30" stroke="#e6e6e6" stroke-width="0.8"/>
<text x="487.20" y="274.40" text-anchor="end" class="t">100</text>
<text x="487.20" y="284.75" text-anchor="end" class="t">50</text>
<text x="487.20" y="295.10" text-anchor="end" class="t">0</text>
<text x="491.80" y="302.20" text-anchor="middle" class="t">0</text>
<text x="510.40" y="302.20" text-anchor="middle" class="t">0.5</text>
<text x="529.00" y="302.20" text-anchor="middle" class="t">1</text>
<polyline points="496.64,293.30 498.87,272.60" fill="none" stroke="#4a88d6" stroke-width="1.15" stroke-linejoin="round" stroke-linecap="round"/>
<polyline points="498.87,272.60 502.96,272.60" fill="none" stroke="#7da9e1" stroke-width="1.0" stroke-linejoin="round" stroke-linecap="butt"/>
<polyline points="500.73,293.30 502.96,272.60" fill="none" stroke="#60b34c" stroke-width="1.15" stroke-linejoin="round" stroke-linecap="round"/>
<polyline points="502.96,272.60 505.56,272.60" fill="none" stroke="#8dc87e" stroke-width="1.0" stroke-linejoin="round" stroke-linecap="butt"/>
<polyline points="491.80,293.30 503.33,293.30" fill="none" stroke="#f8aa75" stroke-width="1.4" stroke-linejoin="round" stroke-linecap="butt"/>
<polyline points="503.33,293.30 505.56,272.60" fill="none" stroke="#f5893f" stroke-width="1.15" stroke-linejoin="round" stroke-linecap="round"/>
<polyline points="505.56,272.60 517.84,272.60" fill="none" stroke="#f8aa75" stroke-width="1.0" stroke-linejoin="round" stroke-linecap="butt"/>
</svg>
<svg width="550" height="306" viewBox="0 0 550 306" style="position:absolute;left:0;top:0"><text x="107.40" y="10.7" text-anchor="middle" class="h" textLength="65.40" lengthAdjust="spacingAndGlyphs">Unspecific Pacific</text>
<text x="107.15" y="25.8" text-anchor="middle" class="h" textLength="46.30" lengthAdjust="spacingAndGlyphs">RCP8.5 SSP3</text>
<text x="191.10" y="10.7" text-anchor="middle" class="h" textLength="20.20" lengthAdjust="spacingAndGlyphs">K &amp; S</text>
<text x="190.65" y="25.8" text-anchor="middle" class="h" textLength="46.70" lengthAdjust="spacingAndGlyphs">RCP4.5 SSP3</text>
<text x="267.95" y="10.7" text-anchor="middle" class="h" textLength="70.10" lengthAdjust="spacingAndGlyphs">Homo economicus</text>
<text x="267.10" y="25.8" text-anchor="middle" class="h" textLength="46.20" lengthAdjust="spacingAndGlyphs">RCP6.0 SSP5</text>
<text x="351.25" y="10.7" text-anchor="middle" class="h" textLength="46.70" lengthAdjust="spacingAndGlyphs">Clean leader</text>
<text x="351.95" y="25.8" text-anchor="middle" class="h" textLength="49.10" lengthAdjust="spacingAndGlyphs">RCP 4.5 SSP5</text>
<text x="432.90" y="10.7" text-anchor="middle" class="h" textLength="55.00" lengthAdjust="spacingAndGlyphs">Techno-garden</text>
<text x="431.95" y="25.8" text-anchor="middle" class="h" textLength="49.10" lengthAdjust="spacingAndGlyphs">RCP 2.6 SSP5</text>
<text x="514.85" y="10.7" text-anchor="middle" class="h" textLength="45.30" lengthAdjust="spacingAndGlyphs">100% Smart</text>
<text x="514.40" y="25.8" text-anchor="middle" class="h" textLength="48.60" lengthAdjust="spacingAndGlyphs">RCP 2.6 SSP1</text>
<text x="33.75" y="45.9" text-anchor="middle" class="l" textLength="32.10" lengthAdjust="spacingAndGlyphs">Insurance</text>
<text x="33.75" y="55.3" text-anchor="middle" class="l" textLength="33.10" lengthAdjust="spacingAndGlyphs">premiums</text>
<text x="33.85" y="84.8" text-anchor="middle" class="l" textLength="43.50" lengthAdjust="spacingAndGlyphs">Maintenance</text>
<text x="33.90" y="94.2" text-anchor="middle" class="l" textLength="16.60" lengthAdjust="spacingAndGlyphs">costs</text>
<text x="34.05" y="127.0" text-anchor="middle" class="l" textLength="31.50" lengthAdjust="spacingAndGlyphs">Aesthetic</text>
<text x="33.80" y="136.4" text-anchor="middle" class="l" textLength="40.60" lengthAdjust="spacingAndGlyphs">degradation</text>
<text x="33.85" y="168.2" text-anchor="middle" class="l" textLength="51.50" lengthAdjust="spacingAndGlyphs">Total hazardous</text>
<text x="33.80" y="177.6" text-anchor="middle" class="l" textLength="14.40" lengthAdjust="spacingAndGlyphs">area</text>
<text x="34.00" y="203.9" text-anchor="middle" class="l" textLength="63.60" lengthAdjust="spacingAndGlyphs">Decline in property</text>
<text x="34.05" y="213.3" text-anchor="middle" class="l" textLength="36.90" lengthAdjust="spacingAndGlyphs">desirability</text>
<text x="33.90" y="243.2" text-anchor="middle" class="l" textLength="54.40" lengthAdjust="spacingAndGlyphs">Number of flood</text>
<text x="33.85" y="252.6" text-anchor="middle" class="l" textLength="21.70" lengthAdjust="spacingAndGlyphs">events</text>
<text x="33.92" y="284.6" text-anchor="middle" class="l" textLength="42.75" lengthAdjust="spacingAndGlyphs">Three waters</text>
<text x="33.75" y="294.0" text-anchor="middle" class="l" textLength="41.70" lengthAdjust="spacingAndGlyphs">vulnerability</text></svg>
</body></html>
